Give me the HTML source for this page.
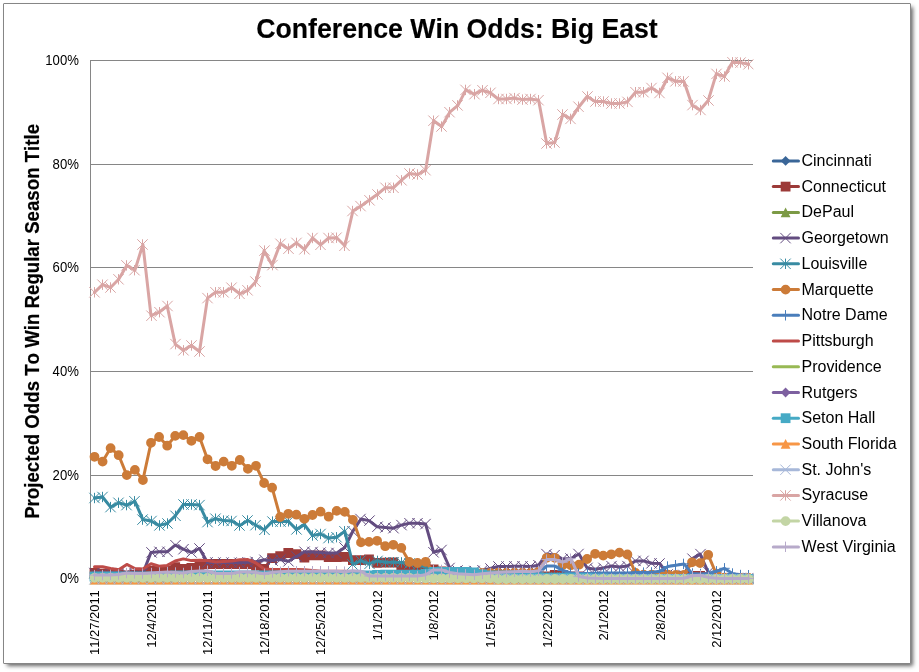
<!DOCTYPE html>
<html lang="en"><head><meta charset="utf-8"><title>Conference Win Odds: Big East</title>
<style>
html,body{margin:0;padding:0;background:#fff;}
body{width:919px;height:672px;position:relative;overflow:hidden;font-family:"Liberation Sans",sans-serif;}
#frame{position:absolute;left:3px;top:3px;width:906px;height:659px;border:1px solid #868686;background:#fff;box-shadow:3px 3px 4px -1px rgba(0,0,0,0.6);border-radius:1px;}
svg{position:absolute;left:0;top:0;}
text{font-family:"Liberation Sans",sans-serif;fill:#000;font-kerning:none;}
.ax{font-size:13.9px;}
.lg{font-size:16px;}
</style></head><body>
<div id="frame"></div>
<svg width="919" height="672" viewBox="0 0 919 672">
<defs><clipPath id="pc"><rect x="0" y="0" width="753.6" height="672"/></clipPath></defs>
<text transform="translate(457 37.8) scale(0.967 1)" text-anchor="middle" font-size="27.6" font-weight="bold" stroke="#000" stroke-width="0.15">Conference Win Odds: Big East</text>
<text transform="translate(38.6 321.4) rotate(-90) scale(0.957 1)" text-anchor="middle" font-size="19.5" font-weight="bold" stroke="#000" stroke-width="0.2">Projected Odds To Win Regular Season Title</text>
<g stroke="#868686" stroke-width="1" shape-rendering="crispEdges">
<line x1="90.5" y1="579.5" x2="752.6" y2="579.5"/>
<line x1="90.5" y1="475.5" x2="752.6" y2="475.5"/>
<line x1="90.5" y1="371.5" x2="752.6" y2="371.5"/>
<line x1="90.5" y1="267.5" x2="752.6" y2="267.5"/>
<line x1="90.5" y1="164.5" x2="752.6" y2="164.5"/>
<line x1="90.5" y1="60.5" x2="752.6" y2="60.5"/>
<line x1="90.5" y1="60" x2="90.5" y2="580"/>
</g>
<text class="ax" transform="translate(78.9 583.1) scale(0.945 1)" text-anchor="end">0%</text>
<text class="ax" transform="translate(78.9 479.5) scale(0.945 1)" text-anchor="end">20%</text>
<text class="ax" transform="translate(78.9 375.9) scale(0.945 1)" text-anchor="end">40%</text>
<text class="ax" transform="translate(78.9 272.3) scale(0.945 1)" text-anchor="end">60%</text>
<text class="ax" transform="translate(78.9 168.7) scale(0.945 1)" text-anchor="end">80%</text>
<text class="ax" transform="translate(78.9 65.1) scale(0.945 1)" text-anchor="end">100%</text>
<g clip-path="url(#pc)" fill="none" stroke-linejoin="round" stroke-linecap="round">
<polyline points="94.5,578.5 102.6,578.5 110.6,578.5 118.7,578.5 126.8,578.5 134.9,578.5 142.9,578.5 151,578.5 159.1,578.5 167.2,578.5 175.2,578.5 183.3,578.5 191.4,578.5 199.5,578.5 207.5,578.5 215.6,578.5 223.7,578.5 231.8,578.5 239.8,578.5 247.9,578.5 256,578.5 264.1,578.5 272.1,578.5 280.2,578.5 288.3,578.5 296.4,578.5 304.4,578.5 312.5,578.5 320.6,578.5 328.7,578.5 336.7,578.5 344.8,578.5 352.9,578.5 361,578.5 369,578.5 377.1,578.5 385.2,578.5 393.3,578.5 401.3,578.5 409.4,578.5 417.5,578.5 425.6,578.5 433.6,578.5 441.7,578.5 449.8,578.5 457.9,578.5 465.9,578.5 474,578.5 482.1,578.5 490.2,578.5 498.2,578.5 506.3,578.5 514.4,578.5 522.5,578.5 530.5,578.5 538.6,578.5 546.7,578.5 554.8,578.5 562.8,578.5 570.9,578.5 579,578.5 587.1,578.5 595.1,578.5 603.2,578.5 611.3,578.5 619.4,578.5 627.4,578.5 635.5,578.5 643.6,578.5 651.7,578.5 659.7,578.5 667.8,578.5 675.9,578.5 684,578.5 692,578.5 700.1,578.5 708.2,578.5 716.3,578.5 724.3,578.5 732.4,578.5 740.5,578.5 748.6,578.5" stroke="#3A6698" stroke-width="3"/>
<path d="M94.5 573.6L99.4 578.5L94.5 583.4L89.6 578.5ZM102.6 573.6L107.5 578.5L102.6 583.4L97.7 578.5ZM110.6 573.6L115.5 578.5L110.6 583.4L105.7 578.5ZM118.7 573.6L123.6 578.5L118.7 583.4L113.8 578.5ZM126.8 573.6L131.7 578.5L126.8 583.4L121.9 578.5ZM134.9 573.6L139.8 578.5L134.9 583.4L130 578.5ZM142.9 573.6L147.8 578.5L142.9 583.4L138 578.5ZM151 573.6L155.9 578.5L151 583.4L146.1 578.5ZM159.1 573.6L164 578.5L159.1 583.4L154.2 578.5ZM167.2 573.6L172.1 578.5L167.2 583.4L162.3 578.5ZM175.2 573.6L180.1 578.5L175.2 583.4L170.3 578.5ZM183.3 573.6L188.2 578.5L183.3 583.4L178.4 578.5ZM191.4 573.6L196.3 578.5L191.4 583.4L186.5 578.5ZM199.5 573.6L204.4 578.5L199.5 583.4L194.6 578.5ZM207.5 573.6L212.4 578.5L207.5 583.4L202.6 578.5ZM215.6 573.6L220.5 578.5L215.6 583.4L210.7 578.5ZM223.7 573.6L228.6 578.5L223.7 583.4L218.8 578.5ZM231.8 573.6L236.7 578.5L231.8 583.4L226.9 578.5ZM239.8 573.6L244.7 578.5L239.8 583.4L234.9 578.5ZM247.9 573.6L252.8 578.5L247.9 583.4L243 578.5ZM256 573.6L260.9 578.5L256 583.4L251.1 578.5ZM264.1 573.6L269 578.5L264.1 583.4L259.2 578.5ZM272.1 573.6L277 578.5L272.1 583.4L267.2 578.5ZM280.2 573.6L285.1 578.5L280.2 583.4L275.3 578.5ZM288.3 573.6L293.2 578.5L288.3 583.4L283.4 578.5ZM296.4 573.6L301.3 578.5L296.4 583.4L291.5 578.5ZM304.4 573.6L309.3 578.5L304.4 583.4L299.5 578.5ZM312.5 573.6L317.4 578.5L312.5 583.4L307.6 578.5ZM320.6 573.6L325.5 578.5L320.6 583.4L315.7 578.5ZM328.7 573.6L333.6 578.5L328.7 583.4L323.8 578.5ZM336.7 573.6L341.6 578.5L336.7 583.4L331.8 578.5ZM344.8 573.6L349.7 578.5L344.8 583.4L339.9 578.5ZM352.9 573.6L357.8 578.5L352.9 583.4L348 578.5ZM361 573.6L365.9 578.5L361 583.4L356.1 578.5ZM369 573.6L373.9 578.5L369 583.4L364.1 578.5ZM377.1 573.6L382 578.5L377.1 583.4L372.2 578.5ZM385.2 573.6L390.1 578.5L385.2 583.4L380.3 578.5ZM393.3 573.6L398.2 578.5L393.3 583.4L388.4 578.5ZM401.3 573.6L406.2 578.5L401.3 583.4L396.4 578.5ZM409.4 573.6L414.3 578.5L409.4 583.4L404.5 578.5ZM417.5 573.6L422.4 578.5L417.5 583.4L412.6 578.5ZM425.6 573.6L430.5 578.5L425.6 583.4L420.7 578.5ZM433.6 573.6L438.5 578.5L433.6 583.4L428.7 578.5ZM441.7 573.6L446.6 578.5L441.7 583.4L436.8 578.5ZM449.8 573.6L454.7 578.5L449.8 583.4L444.9 578.5ZM457.9 573.6L462.8 578.5L457.9 583.4L453 578.5ZM465.9 573.6L470.8 578.5L465.9 583.4L461 578.5ZM474 573.6L478.9 578.5L474 583.4L469.1 578.5ZM482.1 573.6L487 578.5L482.1 583.4L477.2 578.5ZM490.2 573.6L495.1 578.5L490.2 583.4L485.3 578.5ZM498.2 573.6L503.1 578.5L498.2 583.4L493.3 578.5ZM506.3 573.6L511.2 578.5L506.3 583.4L501.4 578.5ZM514.4 573.6L519.3 578.5L514.4 583.4L509.5 578.5ZM522.5 573.6L527.4 578.5L522.5 583.4L517.6 578.5ZM530.5 573.6L535.4 578.5L530.5 583.4L525.6 578.5ZM538.6 573.6L543.5 578.5L538.6 583.4L533.7 578.5ZM546.7 573.6L551.6 578.5L546.7 583.4L541.8 578.5ZM554.8 573.6L559.7 578.5L554.8 583.4L549.9 578.5ZM562.8 573.6L567.7 578.5L562.8 583.4L557.9 578.5ZM570.9 573.6L575.8 578.5L570.9 583.4L566 578.5ZM579 573.6L583.9 578.5L579 583.4L574.1 578.5ZM587.1 573.6L592 578.5L587.1 583.4L582.2 578.5ZM595.1 573.6L600 578.5L595.1 583.4L590.2 578.5ZM603.2 573.6L608.1 578.5L603.2 583.4L598.3 578.5ZM611.3 573.6L616.2 578.5L611.3 583.4L606.4 578.5ZM619.4 573.6L624.3 578.5L619.4 583.4L614.5 578.5ZM627.4 573.6L632.3 578.5L627.4 583.4L622.5 578.5ZM635.5 573.6L640.4 578.5L635.5 583.4L630.6 578.5ZM643.6 573.6L648.5 578.5L643.6 583.4L638.7 578.5ZM651.7 573.6L656.6 578.5L651.7 583.4L646.8 578.5ZM659.7 573.6L664.6 578.5L659.7 583.4L654.8 578.5ZM667.8 573.6L672.7 578.5L667.8 583.4L662.9 578.5ZM675.9 573.6L680.8 578.5L675.9 583.4L671 578.5ZM684 573.6L688.9 578.5L684 583.4L679.1 578.5ZM692 573.6L696.9 578.5L692 583.4L687.1 578.5ZM700.1 573.6L705 578.5L700.1 583.4L695.2 578.5ZM708.2 573.6L713.1 578.5L708.2 583.4L703.3 578.5ZM716.3 573.6L721.2 578.5L716.3 583.4L711.4 578.5ZM724.3 573.6L729.2 578.5L724.3 583.4L719.4 578.5ZM732.4 573.6L737.3 578.5L732.4 583.4L727.5 578.5ZM740.5 573.6L745.4 578.5L740.5 583.4L735.6 578.5ZM748.6 573.6L753.5 578.5L748.6 583.4L743.7 578.5Z" fill="#3A6698" stroke="none"/>
<polyline points="94.5,572.8 102.6,573.7 110.6,573.7 118.7,574.6 126.8,575.3 134.9,574.6 142.9,573.7 151,571 159.1,571.5 167.2,570.7 175.2,567.2 183.3,568.9 191.4,568 199.5,567 207.5,564 215.6,564 223.7,564 231.8,564 239.8,564 247.9,564 256,565.5 264.1,568.9 272.1,558.1 280.2,556.1 288.3,553 296.4,554.1 304.4,557.6 312.5,555.3 320.6,555.3 328.7,557.2 336.7,557.2 344.8,556.8 352.9,560.2 361,560.2 369,559.4 377.1,562.8 385.2,562.6 393.3,562.5 401.3,566.5 409.4,566.5 417.5,566.8 425.6,567.2 433.6,569.5 441.7,571.5 449.8,573.5 457.9,575 465.9,575.5 474,575.5 482.1,575.5 490.2,575.5 498.2,575.5 506.3,575.5 514.4,575.5 522.5,575.5 530.5,575.5 538.6,576 546.7,576.3 554.8,575 562.8,575 570.9,576.3 579,576.3 587.1,577.5 595.1,578 603.2,578 611.3,578 619.4,578 627.4,578.5 635.5,579 643.6,579 651.7,579 659.7,579 667.8,578.5 675.9,577.5 684,576.5 692,575.9 700.1,575.9 708.2,577 716.3,578.5 724.3,579 732.4,579 740.5,579 748.6,579" stroke="#9C3A38" stroke-width="3"/>
<path d="M89.6 567.9h9.8v9.8h-9.8ZM97.7 568.8h9.8v9.8h-9.8ZM105.7 568.8h9.8v9.8h-9.8ZM113.8 569.7h9.8v9.8h-9.8ZM121.9 570.4h9.8v9.8h-9.8ZM130 569.7h9.8v9.8h-9.8ZM138 568.8h9.8v9.8h-9.8ZM146.1 566.1h9.8v9.8h-9.8ZM154.2 566.6h9.8v9.8h-9.8ZM162.3 565.8h9.8v9.8h-9.8ZM170.3 562.3h9.8v9.8h-9.8ZM178.4 564h9.8v9.8h-9.8ZM186.5 563.1h9.8v9.8h-9.8ZM194.6 562.1h9.8v9.8h-9.8ZM202.6 559.1h9.8v9.8h-9.8ZM210.7 559.1h9.8v9.8h-9.8ZM218.8 559.1h9.8v9.8h-9.8ZM226.9 559.1h9.8v9.8h-9.8ZM234.9 559.1h9.8v9.8h-9.8ZM243 559.1h9.8v9.8h-9.8ZM251.1 560.6h9.8v9.8h-9.8ZM259.2 564h9.8v9.8h-9.8ZM267.2 553.2h9.8v9.8h-9.8ZM275.3 551.2h9.8v9.8h-9.8ZM283.4 548.1h9.8v9.8h-9.8ZM291.5 549.2h9.8v9.8h-9.8ZM299.5 552.7h9.8v9.8h-9.8ZM307.6 550.4h9.8v9.8h-9.8ZM315.7 550.4h9.8v9.8h-9.8ZM323.8 552.3h9.8v9.8h-9.8ZM331.8 552.3h9.8v9.8h-9.8ZM339.9 551.9h9.8v9.8h-9.8ZM348 555.3h9.8v9.8h-9.8ZM356.1 555.3h9.8v9.8h-9.8ZM364.1 554.5h9.8v9.8h-9.8ZM372.2 557.9h9.8v9.8h-9.8ZM380.3 557.7h9.8v9.8h-9.8ZM388.4 557.6h9.8v9.8h-9.8ZM396.4 561.6h9.8v9.8h-9.8ZM404.5 561.6h9.8v9.8h-9.8ZM412.6 561.9h9.8v9.8h-9.8ZM420.7 562.3h9.8v9.8h-9.8ZM428.7 564.6h9.8v9.8h-9.8ZM436.8 566.6h9.8v9.8h-9.8ZM444.9 568.6h9.8v9.8h-9.8ZM453 570.1h9.8v9.8h-9.8ZM461 570.6h9.8v9.8h-9.8ZM469.1 570.6h9.8v9.8h-9.8ZM477.2 570.6h9.8v9.8h-9.8ZM485.3 570.6h9.8v9.8h-9.8ZM493.3 570.6h9.8v9.8h-9.8ZM501.4 570.6h9.8v9.8h-9.8ZM509.5 570.6h9.8v9.8h-9.8ZM517.6 570.6h9.8v9.8h-9.8ZM525.6 570.6h9.8v9.8h-9.8ZM533.7 571.1h9.8v9.8h-9.8ZM541.8 571.4h9.8v9.8h-9.8ZM549.9 570.1h9.8v9.8h-9.8ZM557.9 570.1h9.8v9.8h-9.8ZM566 571.4h9.8v9.8h-9.8ZM574.1 571.4h9.8v9.8h-9.8ZM582.2 572.6h9.8v9.8h-9.8ZM590.2 573.1h9.8v9.8h-9.8ZM598.3 573.1h9.8v9.8h-9.8ZM606.4 573.1h9.8v9.8h-9.8ZM614.5 573.1h9.8v9.8h-9.8ZM622.5 573.6h9.8v9.8h-9.8ZM630.6 574.1h9.8v9.8h-9.8ZM638.7 574.1h9.8v9.8h-9.8ZM646.8 574.1h9.8v9.8h-9.8ZM654.8 574.1h9.8v9.8h-9.8ZM662.9 573.6h9.8v9.8h-9.8ZM671 572.6h9.8v9.8h-9.8ZM679.1 571.6h9.8v9.8h-9.8ZM687.1 571h9.8v9.8h-9.8ZM695.2 571h9.8v9.8h-9.8ZM703.3 572.1h9.8v9.8h-9.8ZM711.4 573.6h9.8v9.8h-9.8ZM719.4 574.1h9.8v9.8h-9.8ZM727.5 574.1h9.8v9.8h-9.8ZM735.6 574.1h9.8v9.8h-9.8ZM743.7 574.1h9.8v9.8h-9.8Z" fill="#9C3A38" stroke="none"/>
<polyline points="94.5,579.3 102.6,579.3 110.6,579.3 118.7,579.3 126.8,579.3 134.9,579.3 142.9,579.3 151,579.3 159.1,579.3 167.2,579.3 175.2,579.3 183.3,579.3 191.4,579.3 199.5,579.3 207.5,579.3 215.6,579.3 223.7,579.3 231.8,579.3 239.8,579.3 247.9,579.3 256,579.3 264.1,579.3 272.1,579.3 280.2,579.3 288.3,579.3 296.4,579.3 304.4,579.3 312.5,579.3 320.6,579.3 328.7,579.3 336.7,579.3 344.8,579.3 352.9,579.3 361,579.3 369,579.3 377.1,579.3 385.2,579.3 393.3,579.3 401.3,579.3 409.4,579.3 417.5,579.3 425.6,579.3 433.6,579.3 441.7,579.3 449.8,579.3 457.9,579.3 465.9,579.3 474,579.3 482.1,579.3 490.2,579.3 498.2,579.3 506.3,579.3 514.4,579.3 522.5,579.3 530.5,579.3 538.6,579.3 546.7,579.3 554.8,579.3 562.8,579.3 570.9,579.3 579,579.3 587.1,579.3 595.1,579.3 603.2,579.3 611.3,579.3 619.4,579.3 627.4,579.3 635.5,579.3 643.6,579.3 651.7,579.3 659.7,579.3 667.8,579.3 675.9,579.3 684,579.3 692,579.3 700.1,579.3 708.2,579.3 716.3,579.3 724.3,579.3 732.4,579.3 740.5,579.3 748.6,579.3" stroke="#7C9A45" stroke-width="3"/>
<path d="M94.5 574.4L99.4 584.2L89.6 584.2ZM102.6 574.4L107.5 584.2L97.7 584.2ZM110.6 574.4L115.5 584.2L105.7 584.2ZM118.7 574.4L123.6 584.2L113.8 584.2ZM126.8 574.4L131.7 584.2L121.9 584.2ZM134.9 574.4L139.8 584.2L130 584.2ZM142.9 574.4L147.8 584.2L138 584.2ZM151 574.4L155.9 584.2L146.1 584.2ZM159.1 574.4L164 584.2L154.2 584.2ZM167.2 574.4L172.1 584.2L162.3 584.2ZM175.2 574.4L180.1 584.2L170.3 584.2ZM183.3 574.4L188.2 584.2L178.4 584.2ZM191.4 574.4L196.3 584.2L186.5 584.2ZM199.5 574.4L204.4 584.2L194.6 584.2ZM207.5 574.4L212.4 584.2L202.6 584.2ZM215.6 574.4L220.5 584.2L210.7 584.2ZM223.7 574.4L228.6 584.2L218.8 584.2ZM231.8 574.4L236.7 584.2L226.9 584.2ZM239.8 574.4L244.7 584.2L234.9 584.2ZM247.9 574.4L252.8 584.2L243 584.2ZM256 574.4L260.9 584.2L251.1 584.2ZM264.1 574.4L269 584.2L259.2 584.2ZM272.1 574.4L277 584.2L267.2 584.2ZM280.2 574.4L285.1 584.2L275.3 584.2ZM288.3 574.4L293.2 584.2L283.4 584.2ZM296.4 574.4L301.3 584.2L291.5 584.2ZM304.4 574.4L309.3 584.2L299.5 584.2ZM312.5 574.4L317.4 584.2L307.6 584.2ZM320.6 574.4L325.5 584.2L315.7 584.2ZM328.7 574.4L333.6 584.2L323.8 584.2ZM336.7 574.4L341.6 584.2L331.8 584.2ZM344.8 574.4L349.7 584.2L339.9 584.2ZM352.9 574.4L357.8 584.2L348 584.2ZM361 574.4L365.9 584.2L356.1 584.2ZM369 574.4L373.9 584.2L364.1 584.2ZM377.1 574.4L382 584.2L372.2 584.2ZM385.2 574.4L390.1 584.2L380.3 584.2ZM393.3 574.4L398.2 584.2L388.4 584.2ZM401.3 574.4L406.2 584.2L396.4 584.2ZM409.4 574.4L414.3 584.2L404.5 584.2ZM417.5 574.4L422.4 584.2L412.6 584.2ZM425.6 574.4L430.5 584.2L420.7 584.2ZM433.6 574.4L438.5 584.2L428.7 584.2ZM441.7 574.4L446.6 584.2L436.8 584.2ZM449.8 574.4L454.7 584.2L444.9 584.2ZM457.9 574.4L462.8 584.2L453 584.2ZM465.9 574.4L470.8 584.2L461 584.2ZM474 574.4L478.9 584.2L469.1 584.2ZM482.1 574.4L487 584.2L477.2 584.2ZM490.2 574.4L495.1 584.2L485.3 584.2ZM498.2 574.4L503.1 584.2L493.3 584.2ZM506.3 574.4L511.2 584.2L501.4 584.2ZM514.4 574.4L519.3 584.2L509.5 584.2ZM522.5 574.4L527.4 584.2L517.6 584.2ZM530.5 574.4L535.4 584.2L525.6 584.2ZM538.6 574.4L543.5 584.2L533.7 584.2ZM546.7 574.4L551.6 584.2L541.8 584.2ZM554.8 574.4L559.7 584.2L549.9 584.2ZM562.8 574.4L567.7 584.2L557.9 584.2ZM570.9 574.4L575.8 584.2L566 584.2ZM579 574.4L583.9 584.2L574.1 584.2ZM587.1 574.4L592 584.2L582.2 584.2ZM595.1 574.4L600 584.2L590.2 584.2ZM603.2 574.4L608.1 584.2L598.3 584.2ZM611.3 574.4L616.2 584.2L606.4 584.2ZM619.4 574.4L624.3 584.2L614.5 584.2ZM627.4 574.4L632.3 584.2L622.5 584.2ZM635.5 574.4L640.4 584.2L630.6 584.2ZM643.6 574.4L648.5 584.2L638.7 584.2ZM651.7 574.4L656.6 584.2L646.8 584.2ZM659.7 574.4L664.6 584.2L654.8 584.2ZM667.8 574.4L672.7 584.2L662.9 584.2ZM675.9 574.4L680.8 584.2L671 584.2ZM684 574.4L688.9 584.2L679.1 584.2ZM692 574.4L696.9 584.2L687.1 584.2ZM700.1 574.4L705 584.2L695.2 584.2ZM708.2 574.4L713.1 584.2L703.3 584.2ZM716.3 574.4L721.2 584.2L711.4 584.2ZM724.3 574.4L729.2 584.2L719.4 584.2ZM732.4 574.4L737.3 584.2L727.5 584.2ZM740.5 574.4L745.4 584.2L735.6 584.2ZM748.6 574.4L753.5 584.2L743.7 584.2Z" fill="#7C9A45" stroke="none"/>
<polyline points="94.5,573 102.6,573 110.6,573 118.7,573 126.8,573 134.9,573 142.9,573.2 151,552.4 159.1,551.8 167.2,551.8 175.2,545.2 183.3,549.2 191.4,552.4 199.5,548.5 207.5,562.4 215.6,562.6 223.7,562.6 231.8,562.6 239.8,562.8 247.9,562.2 256,561.8 264.1,559.8 272.1,560.5 280.2,559.6 288.3,561.3 296.4,556.5 304.4,551.7 312.5,552 320.6,552.6 328.7,553 336.7,553 344.8,547.5 352.9,531.2 361,519 369,520.6 377.1,526.7 385.2,527.4 393.3,528.2 401.3,525.1 409.4,523.2 417.5,523.2 425.6,524.1 433.6,552.3 441.7,550 449.8,568 457.9,570.5 465.9,571.3 474,571 482.1,570.2 490.2,568.5 498.2,566.5 506.3,566.5 514.4,566.3 522.5,566.3 530.5,566.5 538.6,565.2 546.7,554.1 554.8,555.2 562.8,559.1 570.9,558.5 579,554 587.1,567.9 595.1,569.2 603.2,567.9 611.3,566.1 619.4,567 627.4,566.1 635.5,560.9 643.6,560.9 651.7,563.3 659.7,563.5 667.8,574.5 675.9,576 684,575 692,558.7 700.1,554.1 708.2,572.2 716.3,577 724.3,577.5 732.4,578 740.5,578 748.6,578" stroke="#634C80" stroke-width="3"/>
<path d="M89.3 567.8l10.4 10.4M89.3 578.2l10.4 -10.4M97.3 567.8l10.4 10.4M97.3 578.2l10.4 -10.4M105.3 567.8l10.4 10.4M105.3 578.2l10.4 -10.4M113.3 567.8l10.4 10.4M113.3 578.2l10.4 -10.4M121.3 567.8l10.4 10.4M121.3 578.2l10.4 -10.4M129.3 567.8l10.4 10.4M129.3 578.2l10.4 -10.4M137.3 568l10.4 10.4M137.3 578.4l10.4 -10.4M146.3 547.2l10.4 10.4M146.3 557.6l10.4 -10.4M154.3 546.6l10.4 10.4M154.3 557l10.4 -10.4M162.3 546.6l10.4 10.4M162.3 557l10.4 -10.4M170.3 540l10.4 10.4M170.3 550.4l10.4 -10.4M178.3 544l10.4 10.4M178.3 554.4l10.4 -10.4M186.3 547.2l10.4 10.4M186.3 557.6l10.4 -10.4M194.3 543.3l10.4 10.4M194.3 553.7l10.4 -10.4M202.3 557.2l10.4 10.4M202.3 567.6l10.4 -10.4M210.3 557.4l10.4 10.4M210.3 567.8l10.4 -10.4M218.3 557.4l10.4 10.4M218.3 567.8l10.4 -10.4M226.3 557.4l10.4 10.4M226.3 567.8l10.4 -10.4M234.3 557.6l10.4 10.4M234.3 568l10.4 -10.4M242.3 557l10.4 10.4M242.3 567.4l10.4 -10.4M250.3 556.6l10.4 10.4M250.3 567l10.4 -10.4M259.3 554.6l10.4 10.4M259.3 565l10.4 -10.4M267.3 555.3l10.4 10.4M267.3 565.7l10.4 -10.4M275.3 554.4l10.4 10.4M275.3 564.8l10.4 -10.4M283.3 556.1l10.4 10.4M283.3 566.5l10.4 -10.4M291.3 551.3l10.4 10.4M291.3 561.7l10.4 -10.4M299.3 546.5l10.4 10.4M299.3 556.9l10.4 -10.4M307.3 546.8l10.4 10.4M307.3 557.2l10.4 -10.4M315.3 547.4l10.4 10.4M315.3 557.8l10.4 -10.4M323.3 547.8l10.4 10.4M323.3 558.2l10.4 -10.4M331.3 547.8l10.4 10.4M331.3 558.2l10.4 -10.4M339.3 542.3l10.4 10.4M339.3 552.7l10.4 -10.4M347.3 526l10.4 10.4M347.3 536.4l10.4 -10.4M355.3 513.8l10.4 10.4M355.3 524.2l10.4 -10.4M364.3 515.4l10.4 10.4M364.3 525.8l10.4 -10.4M372.3 521.5l10.4 10.4M372.3 531.9l10.4 -10.4M380.3 522.2l10.4 10.4M380.3 532.6l10.4 -10.4M388.3 523l10.4 10.4M388.3 533.4l10.4 -10.4M396.3 519.9l10.4 10.4M396.3 530.3l10.4 -10.4M404.3 518l10.4 10.4M404.3 528.4l10.4 -10.4M412.3 518l10.4 10.4M412.3 528.4l10.4 -10.4M420.3 518.9l10.4 10.4M420.3 529.3l10.4 -10.4M428.3 547.1l10.4 10.4M428.3 557.5l10.4 -10.4M436.3 544.8l10.4 10.4M436.3 555.2l10.4 -10.4M444.3 562.8l10.4 10.4M444.3 573.2l10.4 -10.4M452.3 565.3l10.4 10.4M452.3 575.7l10.4 -10.4M460.3 566.1l10.4 10.4M460.3 576.5l10.4 -10.4M469.3 565.8l10.4 10.4M469.3 576.2l10.4 -10.4M477.3 565l10.4 10.4M477.3 575.4l10.4 -10.4M485.3 563.3l10.4 10.4M485.3 573.7l10.4 -10.4M493.3 561.3l10.4 10.4M493.3 571.7l10.4 -10.4M501.3 561.3l10.4 10.4M501.3 571.7l10.4 -10.4M509.3 561.1l10.4 10.4M509.3 571.5l10.4 -10.4M517.3 561.1l10.4 10.4M517.3 571.5l10.4 -10.4M525.3 561.3l10.4 10.4M525.3 571.7l10.4 -10.4M533.3 560l10.4 10.4M533.3 570.4l10.4 -10.4M541.3 548.9l10.4 10.4M541.3 559.3l10.4 -10.4M549.3 550l10.4 10.4M549.3 560.4l10.4 -10.4M557.3 553.9l10.4 10.4M557.3 564.3l10.4 -10.4M565.3 553.3l10.4 10.4M565.3 563.7l10.4 -10.4M573.3 548.8l10.4 10.4M573.3 559.2l10.4 -10.4M582.3 562.7l10.4 10.4M582.3 573.1l10.4 -10.4M590.3 564l10.4 10.4M590.3 574.4l10.4 -10.4M598.3 562.7l10.4 10.4M598.3 573.1l10.4 -10.4M606.3 560.9l10.4 10.4M606.3 571.3l10.4 -10.4M614.3 561.8l10.4 10.4M614.3 572.2l10.4 -10.4M622.3 560.9l10.4 10.4M622.3 571.3l10.4 -10.4M630.3 555.7l10.4 10.4M630.3 566.1l10.4 -10.4M638.3 555.7l10.4 10.4M638.3 566.1l10.4 -10.4M646.3 558.1l10.4 10.4M646.3 568.5l10.4 -10.4M654.3 558.3l10.4 10.4M654.3 568.7l10.4 -10.4M662.3 569.3l10.4 10.4M662.3 579.7l10.4 -10.4M670.3 570.8l10.4 10.4M670.3 581.2l10.4 -10.4M678.3 569.8l10.4 10.4M678.3 580.2l10.4 -10.4M687.3 553.5l10.4 10.4M687.3 563.9l10.4 -10.4M695.3 548.9l10.4 10.4M695.3 559.3l10.4 -10.4M703.3 567l10.4 10.4M703.3 577.4l10.4 -10.4M711.3 571.8l10.4 10.4M711.3 582.2l10.4 -10.4M719.3 572.3l10.4 10.4M719.3 582.7l10.4 -10.4M727.3 572.8l10.4 10.4M727.3 583.2l10.4 -10.4M735.3 572.8l10.4 10.4M735.3 583.2l10.4 -10.4M743.3 572.8l10.4 10.4M743.3 583.2l10.4 -10.4" stroke="#634C80" stroke-width="1" stroke-linecap="butt"/>
<polyline points="94.5,498 102.6,497 110.6,507.1 118.7,502.8 126.8,505.1 134.9,501.3 142.9,519.6 151,521 159.1,525.4 167.2,523.5 175.2,515.8 183.3,504.5 191.4,504.5 199.5,505.1 207.5,522.1 215.6,518.7 223.7,520.6 231.8,521 239.8,525.5 247.9,520.5 256,525.2 264.1,529.8 272.1,521.6 280.2,521.6 288.3,521.3 296.4,529.4 304.4,524.6 312.5,535.5 320.6,534 328.7,538.1 336.7,537.2 344.8,531.3 352.9,564.5 361,560.6 369,563.9 377.1,560.9 385.2,562.2 393.3,562.2 401.3,562.4 409.4,563.5 417.5,565 425.6,567 433.6,571 441.7,573.5 449.8,574.5 457.9,575 465.9,575.5 474,576 482.1,576 490.2,576.5 498.2,576.5 506.3,577 514.4,577 522.5,577 530.5,577 538.6,577.5 546.7,577.5 554.8,577.5 562.8,577.5 570.9,578 579,578 587.1,578 595.1,578 603.2,578 611.3,578 619.4,578.5 627.4,578.5 635.5,578.5 643.6,578.5 651.7,578.5 659.7,578.5 667.8,578.5 675.9,578.5 684,579 692,579 700.1,579 708.2,579 716.3,579 724.3,579 732.4,579 740.5,579 748.6,579" stroke="#388BA2" stroke-width="3"/>
<path d="M89.3 492.8l10.4 10.4M89.3 503.2l10.4 -10.4M94.5 492.8v10.4M97.3 491.8l10.4 10.4M97.3 502.2l10.4 -10.4M102.5 491.8v10.4M105.3 501.9l10.4 10.4M105.3 512.3l10.4 -10.4M110.5 501.9v10.4M113.3 497.6l10.4 10.4M113.3 508l10.4 -10.4M118.5 497.6v10.4M121.3 499.9l10.4 10.4M121.3 510.3l10.4 -10.4M126.5 499.9v10.4M129.3 496.1l10.4 10.4M129.3 506.5l10.4 -10.4M134.5 496.1v10.4M137.3 514.4l10.4 10.4M137.3 524.8l10.4 -10.4M142.5 514.4v10.4M146.3 515.8l10.4 10.4M146.3 526.2l10.4 -10.4M151.5 515.8v10.4M154.3 520.2l10.4 10.4M154.3 530.6l10.4 -10.4M159.5 520.2v10.4M162.3 518.3l10.4 10.4M162.3 528.7l10.4 -10.4M167.5 518.3v10.4M170.3 510.6l10.4 10.4M170.3 521l10.4 -10.4M175.5 510.6v10.4M178.3 499.3l10.4 10.4M178.3 509.7l10.4 -10.4M183.5 499.3v10.4M186.3 499.3l10.4 10.4M186.3 509.7l10.4 -10.4M191.5 499.3v10.4M194.3 499.9l10.4 10.4M194.3 510.3l10.4 -10.4M199.5 499.9v10.4M202.3 516.9l10.4 10.4M202.3 527.3l10.4 -10.4M207.5 516.9v10.4M210.3 513.5l10.4 10.4M210.3 523.9l10.4 -10.4M215.5 513.5v10.4M218.3 515.4l10.4 10.4M218.3 525.8l10.4 -10.4M223.5 515.4v10.4M226.3 515.8l10.4 10.4M226.3 526.2l10.4 -10.4M231.5 515.8v10.4M234.3 520.3l10.4 10.4M234.3 530.7l10.4 -10.4M239.5 520.3v10.4M242.3 515.3l10.4 10.4M242.3 525.7l10.4 -10.4M247.5 515.3v10.4M250.3 520l10.4 10.4M250.3 530.4l10.4 -10.4M255.5 520v10.4M259.3 524.6l10.4 10.4M259.3 535l10.4 -10.4M264.5 524.6v10.4M267.3 516.4l10.4 10.4M267.3 526.8l10.4 -10.4M272.5 516.4v10.4M275.3 516.4l10.4 10.4M275.3 526.8l10.4 -10.4M280.5 516.4v10.4M283.3 516.1l10.4 10.4M283.3 526.5l10.4 -10.4M288.5 516.1v10.4M291.3 524.2l10.4 10.4M291.3 534.6l10.4 -10.4M296.5 524.2v10.4M299.3 519.4l10.4 10.4M299.3 529.8l10.4 -10.4M304.5 519.4v10.4M307.3 530.3l10.4 10.4M307.3 540.7l10.4 -10.4M312.5 530.3v10.4M315.3 528.8l10.4 10.4M315.3 539.2l10.4 -10.4M320.5 528.8v10.4M323.3 532.9l10.4 10.4M323.3 543.3l10.4 -10.4M328.5 532.9v10.4M331.3 532l10.4 10.4M331.3 542.4l10.4 -10.4M336.5 532v10.4M339.3 526.1l10.4 10.4M339.3 536.5l10.4 -10.4M344.5 526.1v10.4M347.3 559.3l10.4 10.4M347.3 569.7l10.4 -10.4M352.5 559.3v10.4M355.3 555.4l10.4 10.4M355.3 565.8l10.4 -10.4M360.5 555.4v10.4M364.3 558.7l10.4 10.4M364.3 569.1l10.4 -10.4M369.5 558.7v10.4M372.3 555.7l10.4 10.4M372.3 566.1l10.4 -10.4M377.5 555.7v10.4M380.3 557l10.4 10.4M380.3 567.4l10.4 -10.4M385.5 557v10.4M388.3 557l10.4 10.4M388.3 567.4l10.4 -10.4M393.5 557v10.4M396.3 557.2l10.4 10.4M396.3 567.6l10.4 -10.4M401.5 557.2v10.4M404.3 558.3l10.4 10.4M404.3 568.7l10.4 -10.4M409.5 558.3v10.4M412.3 559.8l10.4 10.4M412.3 570.2l10.4 -10.4M417.5 559.8v10.4M420.3 561.8l10.4 10.4M420.3 572.2l10.4 -10.4M425.5 561.8v10.4M428.3 565.8l10.4 10.4M428.3 576.2l10.4 -10.4M433.5 565.8v10.4M436.3 568.3l10.4 10.4M436.3 578.7l10.4 -10.4M441.5 568.3v10.4M444.3 569.3l10.4 10.4M444.3 579.7l10.4 -10.4M449.5 569.3v10.4M452.3 569.8l10.4 10.4M452.3 580.2l10.4 -10.4M457.5 569.8v10.4M460.3 570.3l10.4 10.4M460.3 580.7l10.4 -10.4M465.5 570.3v10.4M469.3 570.8l10.4 10.4M469.3 581.2l10.4 -10.4M474.5 570.8v10.4M477.3 570.8l10.4 10.4M477.3 581.2l10.4 -10.4M482.5 570.8v10.4M485.3 571.3l10.4 10.4M485.3 581.7l10.4 -10.4M490.5 571.3v10.4M493.3 571.3l10.4 10.4M493.3 581.7l10.4 -10.4M498.5 571.3v10.4M501.3 571.8l10.4 10.4M501.3 582.2l10.4 -10.4M506.5 571.8v10.4M509.3 571.8l10.4 10.4M509.3 582.2l10.4 -10.4M514.5 571.8v10.4M517.3 571.8l10.4 10.4M517.3 582.2l10.4 -10.4M522.5 571.8v10.4M525.3 571.8l10.4 10.4M525.3 582.2l10.4 -10.4M530.5 571.8v10.4M533.3 572.3l10.4 10.4M533.3 582.7l10.4 -10.4M538.5 572.3v10.4M541.3 572.3l10.4 10.4M541.3 582.7l10.4 -10.4M546.5 572.3v10.4M549.3 572.3l10.4 10.4M549.3 582.7l10.4 -10.4M554.5 572.3v10.4M557.3 572.3l10.4 10.4M557.3 582.7l10.4 -10.4M562.5 572.3v10.4M565.3 572.8l10.4 10.4M565.3 583.2l10.4 -10.4M570.5 572.8v10.4M573.3 572.8l10.4 10.4M573.3 583.2l10.4 -10.4M578.5 572.8v10.4M582.3 572.8l10.4 10.4M582.3 583.2l10.4 -10.4M587.5 572.8v10.4M590.3 572.8l10.4 10.4M590.3 583.2l10.4 -10.4M595.5 572.8v10.4M598.3 572.8l10.4 10.4M598.3 583.2l10.4 -10.4M603.5 572.8v10.4M606.3 572.8l10.4 10.4M606.3 583.2l10.4 -10.4M611.5 572.8v10.4M614.3 573.3l10.4 10.4M614.3 583.7l10.4 -10.4M619.5 573.3v10.4M622.3 573.3l10.4 10.4M622.3 583.7l10.4 -10.4M627.5 573.3v10.4M630.3 573.3l10.4 10.4M630.3 583.7l10.4 -10.4M635.5 573.3v10.4M638.3 573.3l10.4 10.4M638.3 583.7l10.4 -10.4M643.5 573.3v10.4M646.3 573.3l10.4 10.4M646.3 583.7l10.4 -10.4M651.5 573.3v10.4M654.3 573.3l10.4 10.4M654.3 583.7l10.4 -10.4M659.5 573.3v10.4M662.3 573.3l10.4 10.4M662.3 583.7l10.4 -10.4M667.5 573.3v10.4M670.3 573.3l10.4 10.4M670.3 583.7l10.4 -10.4M675.5 573.3v10.4M678.3 573.8l10.4 10.4M678.3 584.2l10.4 -10.4M683.5 573.8v10.4M687.3 573.8l10.4 10.4M687.3 584.2l10.4 -10.4M692.5 573.8v10.4M695.3 573.8l10.4 10.4M695.3 584.2l10.4 -10.4M700.5 573.8v10.4M703.3 573.8l10.4 10.4M703.3 584.2l10.4 -10.4M708.5 573.8v10.4M711.3 573.8l10.4 10.4M711.3 584.2l10.4 -10.4M716.5 573.8v10.4M719.3 573.8l10.4 10.4M719.3 584.2l10.4 -10.4M724.5 573.8v10.4M727.3 573.8l10.4 10.4M727.3 584.2l10.4 -10.4M732.5 573.8v10.4M735.3 573.8l10.4 10.4M735.3 584.2l10.4 -10.4M740.5 573.8v10.4M743.3 573.8l10.4 10.4M743.3 584.2l10.4 -10.4M748.5 573.8v10.4" stroke="#388BA2" stroke-width="1" stroke-linecap="butt"/>
<polyline points="94.5,456.8 102.6,461.6 110.6,448.1 118.7,455.2 126.8,475.1 134.9,469.9 142.9,480 151,442.8 159.1,437 167.2,445.7 175.2,435.9 183.3,435.1 191.4,440.9 199.5,437 207.5,459.3 215.6,466 223.7,461.6 231.8,465.8 239.8,460 247.9,468.9 256,465.8 264.1,483 272.1,487.7 280.2,517 288.3,513.8 296.4,514.7 304.4,518.9 312.5,515 320.6,511.7 328.7,516.7 336.7,510.9 344.8,511.9 352.9,519.8 361,542.4 369,541.9 377.1,540.8 385.2,546.2 393.3,544.8 401.3,547.9 409.4,562 417.5,563 425.6,561.8 433.6,572 441.7,573 449.8,572.8 457.9,573.3 465.9,573.3 474,573 482.1,572.8 490.2,572.8 498.2,573 506.3,573 514.4,573 522.5,573 530.5,573 538.6,572 546.7,557.8 554.8,557.8 562.8,565 570.9,565.2 579,564.7 587.1,559 595.1,553.8 603.2,555.6 611.3,554.3 619.4,552.6 627.4,554.5 635.5,573 643.6,574.6 651.7,574.6 659.7,574.6 667.8,574.6 675.9,574.8 684,575 692,562.3 700.1,563.1 708.2,554.8 716.3,574 724.3,577.6 732.4,577.8 740.5,578 748.6,578" stroke="#CC7B38" stroke-width="3"/>
<path d="M89.6 456.8a4.9 4.9 0 1 0 9.8 0a4.9 4.9 0 1 0 -9.8 0ZM97.7 461.6a4.9 4.9 0 1 0 9.8 0a4.9 4.9 0 1 0 -9.8 0ZM105.7 448.1a4.9 4.9 0 1 0 9.8 0a4.9 4.9 0 1 0 -9.8 0ZM113.8 455.2a4.9 4.9 0 1 0 9.8 0a4.9 4.9 0 1 0 -9.8 0ZM121.9 475.1a4.9 4.9 0 1 0 9.8 0a4.9 4.9 0 1 0 -9.8 0ZM130 469.9a4.9 4.9 0 1 0 9.8 0a4.9 4.9 0 1 0 -9.8 0ZM138 480a4.9 4.9 0 1 0 9.8 0a4.9 4.9 0 1 0 -9.8 0ZM146.1 442.8a4.9 4.9 0 1 0 9.8 0a4.9 4.9 0 1 0 -9.8 0ZM154.2 437a4.9 4.9 0 1 0 9.8 0a4.9 4.9 0 1 0 -9.8 0ZM162.3 445.7a4.9 4.9 0 1 0 9.8 0a4.9 4.9 0 1 0 -9.8 0ZM170.3 435.9a4.9 4.9 0 1 0 9.8 0a4.9 4.9 0 1 0 -9.8 0ZM178.4 435.1a4.9 4.9 0 1 0 9.8 0a4.9 4.9 0 1 0 -9.8 0ZM186.5 440.9a4.9 4.9 0 1 0 9.8 0a4.9 4.9 0 1 0 -9.8 0ZM194.6 437a4.9 4.9 0 1 0 9.8 0a4.9 4.9 0 1 0 -9.8 0ZM202.6 459.3a4.9 4.9 0 1 0 9.8 0a4.9 4.9 0 1 0 -9.8 0ZM210.7 466a4.9 4.9 0 1 0 9.8 0a4.9 4.9 0 1 0 -9.8 0ZM218.8 461.6a4.9 4.9 0 1 0 9.8 0a4.9 4.9 0 1 0 -9.8 0ZM226.9 465.8a4.9 4.9 0 1 0 9.8 0a4.9 4.9 0 1 0 -9.8 0ZM234.9 460a4.9 4.9 0 1 0 9.8 0a4.9 4.9 0 1 0 -9.8 0ZM243 468.9a4.9 4.9 0 1 0 9.8 0a4.9 4.9 0 1 0 -9.8 0ZM251.1 465.8a4.9 4.9 0 1 0 9.8 0a4.9 4.9 0 1 0 -9.8 0ZM259.2 483a4.9 4.9 0 1 0 9.8 0a4.9 4.9 0 1 0 -9.8 0ZM267.2 487.7a4.9 4.9 0 1 0 9.8 0a4.9 4.9 0 1 0 -9.8 0ZM275.3 517a4.9 4.9 0 1 0 9.8 0a4.9 4.9 0 1 0 -9.8 0ZM283.4 513.8a4.9 4.9 0 1 0 9.8 0a4.9 4.9 0 1 0 -9.8 0ZM291.5 514.7a4.9 4.9 0 1 0 9.8 0a4.9 4.9 0 1 0 -9.8 0ZM299.5 518.9a4.9 4.9 0 1 0 9.8 0a4.9 4.9 0 1 0 -9.8 0ZM307.6 515a4.9 4.9 0 1 0 9.8 0a4.9 4.9 0 1 0 -9.8 0ZM315.7 511.7a4.9 4.9 0 1 0 9.8 0a4.9 4.9 0 1 0 -9.8 0ZM323.8 516.7a4.9 4.9 0 1 0 9.8 0a4.9 4.9 0 1 0 -9.8 0ZM331.8 510.9a4.9 4.9 0 1 0 9.8 0a4.9 4.9 0 1 0 -9.8 0ZM339.9 511.9a4.9 4.9 0 1 0 9.8 0a4.9 4.9 0 1 0 -9.8 0ZM348 519.8a4.9 4.9 0 1 0 9.8 0a4.9 4.9 0 1 0 -9.8 0ZM356.1 542.4a4.9 4.9 0 1 0 9.8 0a4.9 4.9 0 1 0 -9.8 0ZM364.1 541.9a4.9 4.9 0 1 0 9.8 0a4.9 4.9 0 1 0 -9.8 0ZM372.2 540.8a4.9 4.9 0 1 0 9.8 0a4.9 4.9 0 1 0 -9.8 0ZM380.3 546.2a4.9 4.9 0 1 0 9.8 0a4.9 4.9 0 1 0 -9.8 0ZM388.4 544.8a4.9 4.9 0 1 0 9.8 0a4.9 4.9 0 1 0 -9.8 0ZM396.4 547.9a4.9 4.9 0 1 0 9.8 0a4.9 4.9 0 1 0 -9.8 0ZM404.5 562a4.9 4.9 0 1 0 9.8 0a4.9 4.9 0 1 0 -9.8 0ZM412.6 563a4.9 4.9 0 1 0 9.8 0a4.9 4.9 0 1 0 -9.8 0ZM420.7 561.8a4.9 4.9 0 1 0 9.8 0a4.9 4.9 0 1 0 -9.8 0ZM428.7 572a4.9 4.9 0 1 0 9.8 0a4.9 4.9 0 1 0 -9.8 0ZM436.8 573a4.9 4.9 0 1 0 9.8 0a4.9 4.9 0 1 0 -9.8 0ZM444.9 572.8a4.9 4.9 0 1 0 9.8 0a4.9 4.9 0 1 0 -9.8 0ZM453 573.3a4.9 4.9 0 1 0 9.8 0a4.9 4.9 0 1 0 -9.8 0ZM461 573.3a4.9 4.9 0 1 0 9.8 0a4.9 4.9 0 1 0 -9.8 0ZM469.1 573a4.9 4.9 0 1 0 9.8 0a4.9 4.9 0 1 0 -9.8 0ZM477.2 572.8a4.9 4.9 0 1 0 9.8 0a4.9 4.9 0 1 0 -9.8 0ZM485.3 572.8a4.9 4.9 0 1 0 9.8 0a4.9 4.9 0 1 0 -9.8 0ZM493.3 573a4.9 4.9 0 1 0 9.8 0a4.9 4.9 0 1 0 -9.8 0ZM501.4 573a4.9 4.9 0 1 0 9.8 0a4.9 4.9 0 1 0 -9.8 0ZM509.5 573a4.9 4.9 0 1 0 9.8 0a4.9 4.9 0 1 0 -9.8 0ZM517.6 573a4.9 4.9 0 1 0 9.8 0a4.9 4.9 0 1 0 -9.8 0ZM525.6 573a4.9 4.9 0 1 0 9.8 0a4.9 4.9 0 1 0 -9.8 0ZM533.7 572a4.9 4.9 0 1 0 9.8 0a4.9 4.9 0 1 0 -9.8 0ZM541.8 557.8a4.9 4.9 0 1 0 9.8 0a4.9 4.9 0 1 0 -9.8 0ZM549.9 557.8a4.9 4.9 0 1 0 9.8 0a4.9 4.9 0 1 0 -9.8 0ZM557.9 565a4.9 4.9 0 1 0 9.8 0a4.9 4.9 0 1 0 -9.8 0ZM566 565.2a4.9 4.9 0 1 0 9.8 0a4.9 4.9 0 1 0 -9.8 0ZM574.1 564.7a4.9 4.9 0 1 0 9.8 0a4.9 4.9 0 1 0 -9.8 0ZM582.2 559a4.9 4.9 0 1 0 9.8 0a4.9 4.9 0 1 0 -9.8 0ZM590.2 553.8a4.9 4.9 0 1 0 9.8 0a4.9 4.9 0 1 0 -9.8 0ZM598.3 555.6a4.9 4.9 0 1 0 9.8 0a4.9 4.9 0 1 0 -9.8 0ZM606.4 554.3a4.9 4.9 0 1 0 9.8 0a4.9 4.9 0 1 0 -9.8 0ZM614.5 552.6a4.9 4.9 0 1 0 9.8 0a4.9 4.9 0 1 0 -9.8 0ZM622.5 554.5a4.9 4.9 0 1 0 9.8 0a4.9 4.9 0 1 0 -9.8 0ZM630.6 573a4.9 4.9 0 1 0 9.8 0a4.9 4.9 0 1 0 -9.8 0ZM638.7 574.6a4.9 4.9 0 1 0 9.8 0a4.9 4.9 0 1 0 -9.8 0ZM646.8 574.6a4.9 4.9 0 1 0 9.8 0a4.9 4.9 0 1 0 -9.8 0ZM654.8 574.6a4.9 4.9 0 1 0 9.8 0a4.9 4.9 0 1 0 -9.8 0ZM662.9 574.6a4.9 4.9 0 1 0 9.8 0a4.9 4.9 0 1 0 -9.8 0ZM671 574.8a4.9 4.9 0 1 0 9.8 0a4.9 4.9 0 1 0 -9.8 0ZM679.1 575a4.9 4.9 0 1 0 9.8 0a4.9 4.9 0 1 0 -9.8 0ZM687.1 562.3a4.9 4.9 0 1 0 9.8 0a4.9 4.9 0 1 0 -9.8 0ZM695.2 563.1a4.9 4.9 0 1 0 9.8 0a4.9 4.9 0 1 0 -9.8 0ZM703.3 554.8a4.9 4.9 0 1 0 9.8 0a4.9 4.9 0 1 0 -9.8 0ZM711.4 574a4.9 4.9 0 1 0 9.8 0a4.9 4.9 0 1 0 -9.8 0ZM719.4 577.6a4.9 4.9 0 1 0 9.8 0a4.9 4.9 0 1 0 -9.8 0ZM727.5 577.8a4.9 4.9 0 1 0 9.8 0a4.9 4.9 0 1 0 -9.8 0ZM735.6 578a4.9 4.9 0 1 0 9.8 0a4.9 4.9 0 1 0 -9.8 0ZM743.7 578a4.9 4.9 0 1 0 9.8 0a4.9 4.9 0 1 0 -9.8 0Z" fill="#CC7B38" stroke="none"/>
<polyline points="94.5,578 102.6,578 110.6,578 118.7,578 126.8,578 134.9,578 142.9,578 151,578 159.1,578 167.2,578 175.2,578 183.3,578 191.4,578 199.5,578 207.5,578 215.6,578 223.7,578 231.8,578 239.8,578 247.9,578 256,578 264.1,578 272.1,578 280.2,578 288.3,578 296.4,578 304.4,578 312.5,578 320.6,578 328.7,578 336.7,578 344.8,578 352.9,578 361,578 369,578 377.1,578 385.2,577 393.3,577 401.3,577 409.4,577 417.5,576.5 425.6,576 433.6,576 441.7,576 449.8,576 457.9,576 465.9,576 474,576 482.1,576 490.2,576 498.2,576 506.3,576 514.4,576 522.5,575.5 530.5,575 538.6,573 546.7,566.1 554.8,566.1 562.8,570.5 570.9,573 579,573.5 587.1,573.5 595.1,573.3 603.2,573 611.3,572.9 619.4,572.9 627.4,572.9 635.5,572.6 643.6,572.6 651.7,572.4 659.7,571.3 667.8,566.5 675.9,565.2 684,563.9 692,573.5 700.1,574 708.2,573.5 716.3,571.3 724.3,568.3 732.4,573.5 740.5,575 748.6,575.2" stroke="#4A7EBB" stroke-width="3"/>
<path d="M94.5 572.8v10.4M89.3 578h10.4M102.5 572.8v10.4M97.3 578h10.4M110.5 572.8v10.4M105.3 578h10.4M118.5 572.8v10.4M113.3 578h10.4M126.5 572.8v10.4M121.3 578h10.4M134.5 572.8v10.4M129.3 578h10.4M142.5 572.8v10.4M137.3 578h10.4M151.5 572.8v10.4M146.3 578h10.4M159.5 572.8v10.4M154.3 578h10.4M167.5 572.8v10.4M162.3 578h10.4M175.5 572.8v10.4M170.3 578h10.4M183.5 572.8v10.4M178.3 578h10.4M191.5 572.8v10.4M186.3 578h10.4M199.5 572.8v10.4M194.3 578h10.4M207.5 572.8v10.4M202.3 578h10.4M215.5 572.8v10.4M210.3 578h10.4M223.5 572.8v10.4M218.3 578h10.4M231.5 572.8v10.4M226.3 578h10.4M239.5 572.8v10.4M234.3 578h10.4M247.5 572.8v10.4M242.3 578h10.4M255.5 572.8v10.4M250.3 578h10.4M264.5 572.8v10.4M259.3 578h10.4M272.5 572.8v10.4M267.3 578h10.4M280.5 572.8v10.4M275.3 578h10.4M288.5 572.8v10.4M283.3 578h10.4M296.5 572.8v10.4M291.3 578h10.4M304.5 572.8v10.4M299.3 578h10.4M312.5 572.8v10.4M307.3 578h10.4M320.5 572.8v10.4M315.3 578h10.4M328.5 572.8v10.4M323.3 578h10.4M336.5 572.8v10.4M331.3 578h10.4M344.5 572.8v10.4M339.3 578h10.4M352.5 572.8v10.4M347.3 578h10.4M360.5 572.8v10.4M355.3 578h10.4M369.5 572.8v10.4M364.3 578h10.4M377.5 572.8v10.4M372.3 578h10.4M385.5 571.8v10.4M380.3 577h10.4M393.5 571.8v10.4M388.3 577h10.4M401.5 571.8v10.4M396.3 577h10.4M409.5 571.8v10.4M404.3 577h10.4M417.5 571.3v10.4M412.3 576.5h10.4M425.5 570.8v10.4M420.3 576h10.4M433.5 570.8v10.4M428.3 576h10.4M441.5 570.8v10.4M436.3 576h10.4M449.5 570.8v10.4M444.3 576h10.4M457.5 570.8v10.4M452.3 576h10.4M465.5 570.8v10.4M460.3 576h10.4M474.5 570.8v10.4M469.3 576h10.4M482.5 570.8v10.4M477.3 576h10.4M490.5 570.8v10.4M485.3 576h10.4M498.5 570.8v10.4M493.3 576h10.4M506.5 570.8v10.4M501.3 576h10.4M514.5 570.8v10.4M509.3 576h10.4M522.5 570.3v10.4M517.3 575.5h10.4M530.5 569.8v10.4M525.3 575h10.4M538.5 567.8v10.4M533.3 573h10.4M546.5 560.9v10.4M541.3 566.1h10.4M554.5 560.9v10.4M549.3 566.1h10.4M562.5 565.3v10.4M557.3 570.5h10.4M570.5 567.8v10.4M565.3 573h10.4M578.5 568.3v10.4M573.3 573.5h10.4M587.5 568.3v10.4M582.3 573.5h10.4M595.5 568.1v10.4M590.3 573.3h10.4M603.5 567.8v10.4M598.3 573h10.4M611.5 567.7v10.4M606.3 572.9h10.4M619.5 567.7v10.4M614.3 572.9h10.4M627.5 567.7v10.4M622.3 572.9h10.4M635.5 567.4v10.4M630.3 572.6h10.4M643.5 567.4v10.4M638.3 572.6h10.4M651.5 567.2v10.4M646.3 572.4h10.4M659.5 566.1v10.4M654.3 571.3h10.4M667.5 561.3v10.4M662.3 566.5h10.4M675.5 560v10.4M670.3 565.2h10.4M683.5 558.7v10.4M678.3 563.9h10.4M692.5 568.3v10.4M687.3 573.5h10.4M700.5 568.8v10.4M695.3 574h10.4M708.5 568.3v10.4M703.3 573.5h10.4M716.5 566.1v10.4M711.3 571.3h10.4M724.5 563.1v10.4M719.3 568.3h10.4M732.5 568.3v10.4M727.3 573.5h10.4M740.5 569.8v10.4M735.3 575h10.4M748.5 570v10.4M743.3 575.2h10.4" stroke="#4A7EBB" stroke-width="1" stroke-linecap="butt"/>
<polyline points="94.5,566.7 102.6,566.7 110.6,568.5 118.7,569.8 126.8,564.4 134.9,568.5 142.9,568.9 151,563.7 159.1,566.3 167.2,565.4 175.2,561 183.3,558.9 191.4,560.6 199.5,560.2 207.5,560.6 215.6,561.9 223.7,561.5 231.8,561 239.8,559.8 247.9,559.6 256,563 264.1,569 272.1,569.6 280.2,569.6 288.3,569.6 296.4,569.6 304.4,569.8 312.5,570.6 320.6,571.2 328.7,571.2 336.7,571.2 344.8,571.2 352.9,571.5 361,572 369,573 377.1,574 385.2,574.5 393.3,575 401.3,575.5 409.4,576 417.5,577.5 425.6,577.5 433.6,577.5 441.7,577.5 449.8,577.5 457.9,577.5 465.9,577.5 474,577.5 482.1,577.5 490.2,577.5 498.2,577.5 506.3,577.5 514.4,577.5 522.5,577.5 530.5,577.5 538.6,577.5 546.7,577.5 554.8,577.5 562.8,577.5 570.9,577.5 579,577.5 587.1,577.5 595.1,577.5 603.2,577.5 611.3,577.5 619.4,577.5 627.4,577.5 635.5,577.5 643.6,577.5 651.7,577.5 659.7,577.5 667.8,577.5 675.9,577.5 684,577.5 692,577.5 700.1,577.5 708.2,577.5 716.3,577.5 724.3,577.5 732.4,577.5 740.5,577.5 748.6,577.5" stroke="#BE4B48" stroke-width="3"/>
<polyline points="94.5,579.3 102.6,579.3 110.6,579.3 118.7,579.3 126.8,579.3 134.9,579.3 142.9,579.3 151,579.3 159.1,579.3 167.2,579.3 175.2,579.3 183.3,579.3 191.4,579.3 199.5,579.3 207.5,579.3 215.6,579.3 223.7,579.3 231.8,579.3 239.8,579.3 247.9,579.3 256,579.3 264.1,579.3 272.1,579.3 280.2,579.3 288.3,579.3 296.4,579.3 304.4,579.3 312.5,579.3 320.6,579.3 328.7,579.3 336.7,579.3 344.8,579.3 352.9,579.3 361,579.3 369,579.3 377.1,579.3 385.2,579.3 393.3,579.3 401.3,579.3 409.4,579.3 417.5,579.3 425.6,579.3 433.6,579.3 441.7,579.3 449.8,579.3 457.9,579.3 465.9,579.3 474,579.3 482.1,579.3 490.2,579.3 498.2,579.3 506.3,579.3 514.4,579.3 522.5,579.3 530.5,579.3 538.6,579.3 546.7,579.3 554.8,579.3 562.8,579.3 570.9,579.3 579,579.3 587.1,579.3 595.1,579.3 603.2,579.3 611.3,579.3 619.4,579.3 627.4,579.3 635.5,579.3 643.6,579.3 651.7,579.3 659.7,579.3 667.8,579.3 675.9,579.3 684,579.3 692,579.3 700.1,579.3 708.2,579.3 716.3,579.3 724.3,579.3 732.4,579.3 740.5,579.3 748.6,579.3" stroke="#98B954" stroke-width="3"/>
<polyline points="94.5,578.8 102.6,578.8 110.6,578.8 118.7,578.8 126.8,578.8 134.9,578.8 142.9,578.8 151,578.8 159.1,578.8 167.2,578.8 175.2,578.8 183.3,578.8 191.4,578.8 199.5,578.8 207.5,578.8 215.6,578.8 223.7,578.8 231.8,578.8 239.8,578.8 247.9,578.8 256,578.8 264.1,578.8 272.1,578.8 280.2,578.8 288.3,578.8 296.4,578.8 304.4,578.8 312.5,578.8 320.6,578.8 328.7,578.8 336.7,578.8 344.8,578.8 352.9,578.8 361,578.8 369,578.8 377.1,578.8 385.2,578.8 393.3,578.8 401.3,578.8 409.4,578.8 417.5,578.8 425.6,578.8 433.6,578.8 441.7,578.8 449.8,578.8 457.9,578.8 465.9,578.8 474,578.8 482.1,578.8 490.2,578.8 498.2,578.8 506.3,578.8 514.4,578.8 522.5,578.8 530.5,578.8 538.6,578.8 546.7,578.8 554.8,578.8 562.8,578.8 570.9,578.8 579,578.8 587.1,578.8 595.1,578.8 603.2,578.8 611.3,578.8 619.4,578.8 627.4,578.8 635.5,578.8 643.6,578.8 651.7,578.8 659.7,578.8 667.8,578.8 675.9,578.8 684,578.8 692,578.8 700.1,578.8 708.2,578.8 716.3,578.8 724.3,578.8 732.4,578.8 740.5,578.8 748.6,578.8" stroke="#7D60A0" stroke-width="3"/>
<path d="M94.5 573.9L99.4 578.8L94.5 583.7L89.6 578.8ZM102.6 573.9L107.5 578.8L102.6 583.7L97.7 578.8ZM110.6 573.9L115.5 578.8L110.6 583.7L105.7 578.8ZM118.7 573.9L123.6 578.8L118.7 583.7L113.8 578.8ZM126.8 573.9L131.7 578.8L126.8 583.7L121.9 578.8ZM134.9 573.9L139.8 578.8L134.9 583.7L130 578.8ZM142.9 573.9L147.8 578.8L142.9 583.7L138 578.8ZM151 573.9L155.9 578.8L151 583.7L146.1 578.8ZM159.1 573.9L164 578.8L159.1 583.7L154.2 578.8ZM167.2 573.9L172.1 578.8L167.2 583.7L162.3 578.8ZM175.2 573.9L180.1 578.8L175.2 583.7L170.3 578.8ZM183.3 573.9L188.2 578.8L183.3 583.7L178.4 578.8ZM191.4 573.9L196.3 578.8L191.4 583.7L186.5 578.8ZM199.5 573.9L204.4 578.8L199.5 583.7L194.6 578.8ZM207.5 573.9L212.4 578.8L207.5 583.7L202.6 578.8ZM215.6 573.9L220.5 578.8L215.6 583.7L210.7 578.8ZM223.7 573.9L228.6 578.8L223.7 583.7L218.8 578.8ZM231.8 573.9L236.7 578.8L231.8 583.7L226.9 578.8ZM239.8 573.9L244.7 578.8L239.8 583.7L234.9 578.8ZM247.9 573.9L252.8 578.8L247.9 583.7L243 578.8ZM256 573.9L260.9 578.8L256 583.7L251.1 578.8ZM264.1 573.9L269 578.8L264.1 583.7L259.2 578.8ZM272.1 573.9L277 578.8L272.1 583.7L267.2 578.8ZM280.2 573.9L285.1 578.8L280.2 583.7L275.3 578.8ZM288.3 573.9L293.2 578.8L288.3 583.7L283.4 578.8ZM296.4 573.9L301.3 578.8L296.4 583.7L291.5 578.8ZM304.4 573.9L309.3 578.8L304.4 583.7L299.5 578.8ZM312.5 573.9L317.4 578.8L312.5 583.7L307.6 578.8ZM320.6 573.9L325.5 578.8L320.6 583.7L315.7 578.8ZM328.7 573.9L333.6 578.8L328.7 583.7L323.8 578.8ZM336.7 573.9L341.6 578.8L336.7 583.7L331.8 578.8ZM344.8 573.9L349.7 578.8L344.8 583.7L339.9 578.8ZM352.9 573.9L357.8 578.8L352.9 583.7L348 578.8ZM361 573.9L365.9 578.8L361 583.7L356.1 578.8ZM369 573.9L373.9 578.8L369 583.7L364.1 578.8ZM377.1 573.9L382 578.8L377.1 583.7L372.2 578.8ZM385.2 573.9L390.1 578.8L385.2 583.7L380.3 578.8ZM393.3 573.9L398.2 578.8L393.3 583.7L388.4 578.8ZM401.3 573.9L406.2 578.8L401.3 583.7L396.4 578.8ZM409.4 573.9L414.3 578.8L409.4 583.7L404.5 578.8ZM417.5 573.9L422.4 578.8L417.5 583.7L412.6 578.8ZM425.6 573.9L430.5 578.8L425.6 583.7L420.7 578.8ZM433.6 573.9L438.5 578.8L433.6 583.7L428.7 578.8ZM441.7 573.9L446.6 578.8L441.7 583.7L436.8 578.8ZM449.8 573.9L454.7 578.8L449.8 583.7L444.9 578.8ZM457.9 573.9L462.8 578.8L457.9 583.7L453 578.8ZM465.9 573.9L470.8 578.8L465.9 583.7L461 578.8ZM474 573.9L478.9 578.8L474 583.7L469.1 578.8ZM482.1 573.9L487 578.8L482.1 583.7L477.2 578.8ZM490.2 573.9L495.1 578.8L490.2 583.7L485.3 578.8ZM498.2 573.9L503.1 578.8L498.2 583.7L493.3 578.8ZM506.3 573.9L511.2 578.8L506.3 583.7L501.4 578.8ZM514.4 573.9L519.3 578.8L514.4 583.7L509.5 578.8ZM522.5 573.9L527.4 578.8L522.5 583.7L517.6 578.8ZM530.5 573.9L535.4 578.8L530.5 583.7L525.6 578.8ZM538.6 573.9L543.5 578.8L538.6 583.7L533.7 578.8ZM546.7 573.9L551.6 578.8L546.7 583.7L541.8 578.8ZM554.8 573.9L559.7 578.8L554.8 583.7L549.9 578.8ZM562.8 573.9L567.7 578.8L562.8 583.7L557.9 578.8ZM570.9 573.9L575.8 578.8L570.9 583.7L566 578.8ZM579 573.9L583.9 578.8L579 583.7L574.1 578.8ZM587.1 573.9L592 578.8L587.1 583.7L582.2 578.8ZM595.1 573.9L600 578.8L595.1 583.7L590.2 578.8ZM603.2 573.9L608.1 578.8L603.2 583.7L598.3 578.8ZM611.3 573.9L616.2 578.8L611.3 583.7L606.4 578.8ZM619.4 573.9L624.3 578.8L619.4 583.7L614.5 578.8ZM627.4 573.9L632.3 578.8L627.4 583.7L622.5 578.8ZM635.5 573.9L640.4 578.8L635.5 583.7L630.6 578.8ZM643.6 573.9L648.5 578.8L643.6 583.7L638.7 578.8ZM651.7 573.9L656.6 578.8L651.7 583.7L646.8 578.8ZM659.7 573.9L664.6 578.8L659.7 583.7L654.8 578.8ZM667.8 573.9L672.7 578.8L667.8 583.7L662.9 578.8ZM675.9 573.9L680.8 578.8L675.9 583.7L671 578.8ZM684 573.9L688.9 578.8L684 583.7L679.1 578.8ZM692 573.9L696.9 578.8L692 583.7L687.1 578.8ZM700.1 573.9L705 578.8L700.1 583.7L695.2 578.8ZM708.2 573.9L713.1 578.8L708.2 583.7L703.3 578.8ZM716.3 573.9L721.2 578.8L716.3 583.7L711.4 578.8ZM724.3 573.9L729.2 578.8L724.3 583.7L719.4 578.8ZM732.4 573.9L737.3 578.8L732.4 583.7L727.5 578.8ZM740.5 573.9L745.4 578.8L740.5 583.7L735.6 578.8ZM748.6 573.9L753.5 578.8L748.6 583.7L743.7 578.8Z" fill="#7D60A0" stroke="none"/>
<polyline points="94.5,576.5 102.6,576.5 110.6,576.5 118.7,576.5 126.8,576.5 134.9,576.5 142.9,576.5 151,576.5 159.1,576.5 167.2,576.5 175.2,575.5 183.3,575.5 191.4,575.5 199.5,575.5 207.5,575.5 215.6,575.5 223.7,575.5 231.8,575.5 239.8,575.5 247.9,575.5 256,575.5 264.1,575.5 272.1,575.5 280.2,575.5 288.3,575.5 296.4,575.5 304.4,575.5 312.5,575.5 320.6,575.5 328.7,575.5 336.7,575.5 344.8,575.5 352.9,575.5 361,575.5 369,575.5 377.1,575 385.2,574.6 393.3,574.6 401.3,574.6 409.4,574.6 417.5,574.6 425.6,574 433.6,572 441.7,572 449.8,572 457.9,572 465.9,572 474,572.3 482.1,574.5 490.2,575.5 498.2,575.5 506.3,575.5 514.4,575.5 522.5,575.5 530.5,577 538.6,577.6 546.7,577.6 554.8,577.6 562.8,577.6 570.9,577.6 579,577.8 587.1,578 595.1,578.3 603.2,578.5 611.3,578.8 619.4,578.8 627.4,579 635.5,579 643.6,579 651.7,579 659.7,579 667.8,579 675.9,579 684,579 692,579 700.1,579 708.2,579 716.3,579 724.3,579 732.4,579 740.5,579 748.6,579" stroke="#46AAC5" stroke-width="3"/>
<path d="M89.6 571.6h9.8v9.8h-9.8ZM97.7 571.6h9.8v9.8h-9.8ZM105.7 571.6h9.8v9.8h-9.8ZM113.8 571.6h9.8v9.8h-9.8ZM121.9 571.6h9.8v9.8h-9.8ZM130 571.6h9.8v9.8h-9.8ZM138 571.6h9.8v9.8h-9.8ZM146.1 571.6h9.8v9.8h-9.8ZM154.2 571.6h9.8v9.8h-9.8ZM162.3 571.6h9.8v9.8h-9.8ZM170.3 570.6h9.8v9.8h-9.8ZM178.4 570.6h9.8v9.8h-9.8ZM186.5 570.6h9.8v9.8h-9.8ZM194.6 570.6h9.8v9.8h-9.8ZM202.6 570.6h9.8v9.8h-9.8ZM210.7 570.6h9.8v9.8h-9.8ZM218.8 570.6h9.8v9.8h-9.8ZM226.9 570.6h9.8v9.8h-9.8ZM234.9 570.6h9.8v9.8h-9.8ZM243 570.6h9.8v9.8h-9.8ZM251.1 570.6h9.8v9.8h-9.8ZM259.2 570.6h9.8v9.8h-9.8ZM267.2 570.6h9.8v9.8h-9.8ZM275.3 570.6h9.8v9.8h-9.8ZM283.4 570.6h9.8v9.8h-9.8ZM291.5 570.6h9.8v9.8h-9.8ZM299.5 570.6h9.8v9.8h-9.8ZM307.6 570.6h9.8v9.8h-9.8ZM315.7 570.6h9.8v9.8h-9.8ZM323.8 570.6h9.8v9.8h-9.8ZM331.8 570.6h9.8v9.8h-9.8ZM339.9 570.6h9.8v9.8h-9.8ZM348 570.6h9.8v9.8h-9.8ZM356.1 570.6h9.8v9.8h-9.8ZM364.1 570.6h9.8v9.8h-9.8ZM372.2 570.1h9.8v9.8h-9.8ZM380.3 569.7h9.8v9.8h-9.8ZM388.4 569.7h9.8v9.8h-9.8ZM396.4 569.7h9.8v9.8h-9.8ZM404.5 569.7h9.8v9.8h-9.8ZM412.6 569.7h9.8v9.8h-9.8ZM420.7 569.1h9.8v9.8h-9.8ZM428.7 567.1h9.8v9.8h-9.8ZM436.8 567.1h9.8v9.8h-9.8ZM444.9 567.1h9.8v9.8h-9.8ZM453 567.1h9.8v9.8h-9.8ZM461 567.1h9.8v9.8h-9.8ZM469.1 567.4h9.8v9.8h-9.8ZM477.2 569.6h9.8v9.8h-9.8ZM485.3 570.6h9.8v9.8h-9.8ZM493.3 570.6h9.8v9.8h-9.8ZM501.4 570.6h9.8v9.8h-9.8ZM509.5 570.6h9.8v9.8h-9.8ZM517.6 570.6h9.8v9.8h-9.8ZM525.6 572.1h9.8v9.8h-9.8ZM533.7 572.7h9.8v9.8h-9.8ZM541.8 572.7h9.8v9.8h-9.8ZM549.9 572.7h9.8v9.8h-9.8ZM557.9 572.7h9.8v9.8h-9.8ZM566 572.7h9.8v9.8h-9.8ZM574.1 572.9h9.8v9.8h-9.8ZM582.2 573.1h9.8v9.8h-9.8ZM590.2 573.4h9.8v9.8h-9.8ZM598.3 573.6h9.8v9.8h-9.8ZM606.4 573.9h9.8v9.8h-9.8ZM614.5 573.9h9.8v9.8h-9.8ZM622.5 574.1h9.8v9.8h-9.8ZM630.6 574.1h9.8v9.8h-9.8ZM638.7 574.1h9.8v9.8h-9.8ZM646.8 574.1h9.8v9.8h-9.8ZM654.8 574.1h9.8v9.8h-9.8ZM662.9 574.1h9.8v9.8h-9.8ZM671 574.1h9.8v9.8h-9.8ZM679.1 574.1h9.8v9.8h-9.8ZM687.1 574.1h9.8v9.8h-9.8ZM695.2 574.1h9.8v9.8h-9.8ZM703.3 574.1h9.8v9.8h-9.8ZM711.4 574.1h9.8v9.8h-9.8ZM719.4 574.1h9.8v9.8h-9.8ZM727.5 574.1h9.8v9.8h-9.8ZM735.6 574.1h9.8v9.8h-9.8ZM743.7 574.1h9.8v9.8h-9.8Z" fill="#46AAC5" stroke="none"/>
<polyline points="94.5,579.6 102.6,579.6 110.6,579.6 118.7,579.6 126.8,579.6 134.9,579.6 142.9,579.6 151,579.6 159.1,579.6 167.2,579.6 175.2,579.6 183.3,579.6 191.4,579.6 199.5,579.6 207.5,579.6 215.6,579.6 223.7,579.6 231.8,579.6 239.8,579.6 247.9,579.6 256,579.6 264.1,579.6 272.1,579.6 280.2,579.6 288.3,579.6 296.4,579.6 304.4,579.6 312.5,579.6 320.6,579.6 328.7,579.6 336.7,579.6 344.8,579.6 352.9,579.6 361,579.6 369,579.6 377.1,579.6 385.2,579.6 393.3,579.6 401.3,579.6 409.4,579.6 417.5,579.6 425.6,579.6 433.6,579.6 441.7,579.6 449.8,579.6 457.9,579.6 465.9,579.6 474,579.6 482.1,579.6 490.2,579.6 498.2,579.6 506.3,579.6 514.4,579.6 522.5,579.6 530.5,579.6 538.6,579.6 546.7,579.6 554.8,579.6 562.8,579.6 570.9,579.6 579,579.6 587.1,579.6 595.1,579.6 603.2,579.6 611.3,579.6 619.4,579.6 627.4,579.6 635.5,579.6 643.6,579.6 651.7,579.6 659.7,579.6 667.8,579.6 675.9,579.6 684,579.6 692,579.6 700.1,579.6 708.2,579.6 716.3,579.6 724.3,579.6 732.4,579.6 740.5,579.6 748.6,579.6" stroke="#F79646" stroke-width="3"/>
<path d="M94.5 574.7L99.4 584.5L89.6 584.5ZM102.6 574.7L107.5 584.5L97.7 584.5ZM110.6 574.7L115.5 584.5L105.7 584.5ZM118.7 574.7L123.6 584.5L113.8 584.5ZM126.8 574.7L131.7 584.5L121.9 584.5ZM134.9 574.7L139.8 584.5L130 584.5ZM142.9 574.7L147.8 584.5L138 584.5ZM151 574.7L155.9 584.5L146.1 584.5ZM159.1 574.7L164 584.5L154.2 584.5ZM167.2 574.7L172.1 584.5L162.3 584.5ZM175.2 574.7L180.1 584.5L170.3 584.5ZM183.3 574.7L188.2 584.5L178.4 584.5ZM191.4 574.7L196.3 584.5L186.5 584.5ZM199.5 574.7L204.4 584.5L194.6 584.5ZM207.5 574.7L212.4 584.5L202.6 584.5ZM215.6 574.7L220.5 584.5L210.7 584.5ZM223.7 574.7L228.6 584.5L218.8 584.5ZM231.8 574.7L236.7 584.5L226.9 584.5ZM239.8 574.7L244.7 584.5L234.9 584.5ZM247.9 574.7L252.8 584.5L243 584.5ZM256 574.7L260.9 584.5L251.1 584.5ZM264.1 574.7L269 584.5L259.2 584.5ZM272.1 574.7L277 584.5L267.2 584.5ZM280.2 574.7L285.1 584.5L275.3 584.5ZM288.3 574.7L293.2 584.5L283.4 584.5ZM296.4 574.7L301.3 584.5L291.5 584.5ZM304.4 574.7L309.3 584.5L299.5 584.5ZM312.5 574.7L317.4 584.5L307.6 584.5ZM320.6 574.7L325.5 584.5L315.7 584.5ZM328.7 574.7L333.6 584.5L323.8 584.5ZM336.7 574.7L341.6 584.5L331.8 584.5ZM344.8 574.7L349.7 584.5L339.9 584.5ZM352.9 574.7L357.8 584.5L348 584.5ZM361 574.7L365.9 584.5L356.1 584.5ZM369 574.7L373.9 584.5L364.1 584.5ZM377.1 574.7L382 584.5L372.2 584.5ZM385.2 574.7L390.1 584.5L380.3 584.5ZM393.3 574.7L398.2 584.5L388.4 584.5ZM401.3 574.7L406.2 584.5L396.4 584.5ZM409.4 574.7L414.3 584.5L404.5 584.5ZM417.5 574.7L422.4 584.5L412.6 584.5ZM425.6 574.7L430.5 584.5L420.7 584.5ZM433.6 574.7L438.5 584.5L428.7 584.5ZM441.7 574.7L446.6 584.5L436.8 584.5ZM449.8 574.7L454.7 584.5L444.9 584.5ZM457.9 574.7L462.8 584.5L453 584.5ZM465.9 574.7L470.8 584.5L461 584.5ZM474 574.7L478.9 584.5L469.1 584.5ZM482.1 574.7L487 584.5L477.2 584.5ZM490.2 574.7L495.1 584.5L485.3 584.5ZM498.2 574.7L503.1 584.5L493.3 584.5ZM506.3 574.7L511.2 584.5L501.4 584.5ZM514.4 574.7L519.3 584.5L509.5 584.5ZM522.5 574.7L527.4 584.5L517.6 584.5ZM530.5 574.7L535.4 584.5L525.6 584.5ZM538.6 574.7L543.5 584.5L533.7 584.5ZM546.7 574.7L551.6 584.5L541.8 584.5ZM554.8 574.7L559.7 584.5L549.9 584.5ZM562.8 574.7L567.7 584.5L557.9 584.5ZM570.9 574.7L575.8 584.5L566 584.5ZM579 574.7L583.9 584.5L574.1 584.5ZM587.1 574.7L592 584.5L582.2 584.5ZM595.1 574.7L600 584.5L590.2 584.5ZM603.2 574.7L608.1 584.5L598.3 584.5ZM611.3 574.7L616.2 584.5L606.4 584.5ZM619.4 574.7L624.3 584.5L614.5 584.5ZM627.4 574.7L632.3 584.5L622.5 584.5ZM635.5 574.7L640.4 584.5L630.6 584.5ZM643.6 574.7L648.5 584.5L638.7 584.5ZM651.7 574.7L656.6 584.5L646.8 584.5ZM659.7 574.7L664.6 584.5L654.8 584.5ZM667.8 574.7L672.7 584.5L662.9 584.5ZM675.9 574.7L680.8 584.5L671 584.5ZM684 574.7L688.9 584.5L679.1 584.5ZM692 574.7L696.9 584.5L687.1 584.5ZM700.1 574.7L705 584.5L695.2 584.5ZM708.2 574.7L713.1 584.5L703.3 584.5ZM716.3 574.7L721.2 584.5L711.4 584.5ZM724.3 574.7L729.2 584.5L719.4 584.5ZM732.4 574.7L737.3 584.5L727.5 584.5ZM740.5 574.7L745.4 584.5L735.6 584.5ZM748.6 574.7L753.5 584.5L743.7 584.5Z" fill="#F79646" stroke="none"/>
<polyline points="94.5,579.3 102.6,579.3 110.6,579.3 118.7,579.3 126.8,579.3 134.9,579.3 142.9,579.3 151,579.3 159.1,579.3 167.2,579.3 175.2,579.3 183.3,579.3 191.4,579.3 199.5,579.3 207.5,579.3 215.6,579.3 223.7,579.3 231.8,579.3 239.8,579.3 247.9,579.3 256,579.3 264.1,579.3 272.1,579.3 280.2,579.3 288.3,579.3 296.4,579.3 304.4,579.3 312.5,579.3 320.6,579.3 328.7,579.3 336.7,579.3 344.8,579.3 352.9,579.3 361,579.3 369,579.3 377.1,579.3 385.2,579.3 393.3,579.3 401.3,579.3 409.4,579.3 417.5,579.3 425.6,579.3 433.6,579.3 441.7,579.3 449.8,579.3 457.9,579.3 465.9,579.3 474,579.3 482.1,579.3 490.2,579.3 498.2,579.3 506.3,579.3 514.4,579.3 522.5,579.3 530.5,579.3 538.6,579.3 546.7,579.3 554.8,579.3 562.8,579.3 570.9,579.3 579,579.3 587.1,579.3 595.1,579.3 603.2,579.3 611.3,579.3 619.4,579.3 627.4,579.3 635.5,579.3 643.6,579.3 651.7,579.3 659.7,579.3 667.8,579.3 675.9,579.3 684,579.3 692,579.3 700.1,579.3 708.2,579.3 716.3,579.3 724.3,579.3 732.4,579.3 740.5,579.3 748.6,579.3" stroke="#A7B8D9" stroke-width="3"/>
<path d="M89.3 574.1l10.4 10.4M89.3 584.5l10.4 -10.4M97.3 574.1l10.4 10.4M97.3 584.5l10.4 -10.4M105.3 574.1l10.4 10.4M105.3 584.5l10.4 -10.4M113.3 574.1l10.4 10.4M113.3 584.5l10.4 -10.4M121.3 574.1l10.4 10.4M121.3 584.5l10.4 -10.4M129.3 574.1l10.4 10.4M129.3 584.5l10.4 -10.4M137.3 574.1l10.4 10.4M137.3 584.5l10.4 -10.4M146.3 574.1l10.4 10.4M146.3 584.5l10.4 -10.4M154.3 574.1l10.4 10.4M154.3 584.5l10.4 -10.4M162.3 574.1l10.4 10.4M162.3 584.5l10.4 -10.4M170.3 574.1l10.4 10.4M170.3 584.5l10.4 -10.4M178.3 574.1l10.4 10.4M178.3 584.5l10.4 -10.4M186.3 574.1l10.4 10.4M186.3 584.5l10.4 -10.4M194.3 574.1l10.4 10.4M194.3 584.5l10.4 -10.4M202.3 574.1l10.4 10.4M202.3 584.5l10.4 -10.4M210.3 574.1l10.4 10.4M210.3 584.5l10.4 -10.4M218.3 574.1l10.4 10.4M218.3 584.5l10.4 -10.4M226.3 574.1l10.4 10.4M226.3 584.5l10.4 -10.4M234.3 574.1l10.4 10.4M234.3 584.5l10.4 -10.4M242.3 574.1l10.4 10.4M242.3 584.5l10.4 -10.4M250.3 574.1l10.4 10.4M250.3 584.5l10.4 -10.4M259.3 574.1l10.4 10.4M259.3 584.5l10.4 -10.4M267.3 574.1l10.4 10.4M267.3 584.5l10.4 -10.4M275.3 574.1l10.4 10.4M275.3 584.5l10.4 -10.4M283.3 574.1l10.4 10.4M283.3 584.5l10.4 -10.4M291.3 574.1l10.4 10.4M291.3 584.5l10.4 -10.4M299.3 574.1l10.4 10.4M299.3 584.5l10.4 -10.4M307.3 574.1l10.4 10.4M307.3 584.5l10.4 -10.4M315.3 574.1l10.4 10.4M315.3 584.5l10.4 -10.4M323.3 574.1l10.4 10.4M323.3 584.5l10.4 -10.4M331.3 574.1l10.4 10.4M331.3 584.5l10.4 -10.4M339.3 574.1l10.4 10.4M339.3 584.5l10.4 -10.4M347.3 574.1l10.4 10.4M347.3 584.5l10.4 -10.4M355.3 574.1l10.4 10.4M355.3 584.5l10.4 -10.4M364.3 574.1l10.4 10.4M364.3 584.5l10.4 -10.4M372.3 574.1l10.4 10.4M372.3 584.5l10.4 -10.4M380.3 574.1l10.4 10.4M380.3 584.5l10.4 -10.4M388.3 574.1l10.4 10.4M388.3 584.5l10.4 -10.4M396.3 574.1l10.4 10.4M396.3 584.5l10.4 -10.4M404.3 574.1l10.4 10.4M404.3 584.5l10.4 -10.4M412.3 574.1l10.4 10.4M412.3 584.5l10.4 -10.4M420.3 574.1l10.4 10.4M420.3 584.5l10.4 -10.4M428.3 574.1l10.4 10.4M428.3 584.5l10.4 -10.4M436.3 574.1l10.4 10.4M436.3 584.5l10.4 -10.4M444.3 574.1l10.4 10.4M444.3 584.5l10.4 -10.4M452.3 574.1l10.4 10.4M452.3 584.5l10.4 -10.4M460.3 574.1l10.4 10.4M460.3 584.5l10.4 -10.4M469.3 574.1l10.4 10.4M469.3 584.5l10.4 -10.4M477.3 574.1l10.4 10.4M477.3 584.5l10.4 -10.4M485.3 574.1l10.4 10.4M485.3 584.5l10.4 -10.4M493.3 574.1l10.4 10.4M493.3 584.5l10.4 -10.4M501.3 574.1l10.4 10.4M501.3 584.5l10.4 -10.4M509.3 574.1l10.4 10.4M509.3 584.5l10.4 -10.4M517.3 574.1l10.4 10.4M517.3 584.5l10.4 -10.4M525.3 574.1l10.4 10.4M525.3 584.5l10.4 -10.4M533.3 574.1l10.4 10.4M533.3 584.5l10.4 -10.4M541.3 574.1l10.4 10.4M541.3 584.5l10.4 -10.4M549.3 574.1l10.4 10.4M549.3 584.5l10.4 -10.4M557.3 574.1l10.4 10.4M557.3 584.5l10.4 -10.4M565.3 574.1l10.4 10.4M565.3 584.5l10.4 -10.4M573.3 574.1l10.4 10.4M573.3 584.5l10.4 -10.4M582.3 574.1l10.4 10.4M582.3 584.5l10.4 -10.4M590.3 574.1l10.4 10.4M590.3 584.5l10.4 -10.4M598.3 574.1l10.4 10.4M598.3 584.5l10.4 -10.4M606.3 574.1l10.4 10.4M606.3 584.5l10.4 -10.4M614.3 574.1l10.4 10.4M614.3 584.5l10.4 -10.4M622.3 574.1l10.4 10.4M622.3 584.5l10.4 -10.4M630.3 574.1l10.4 10.4M630.3 584.5l10.4 -10.4M638.3 574.1l10.4 10.4M638.3 584.5l10.4 -10.4M646.3 574.1l10.4 10.4M646.3 584.5l10.4 -10.4M654.3 574.1l10.4 10.4M654.3 584.5l10.4 -10.4M662.3 574.1l10.4 10.4M662.3 584.5l10.4 -10.4M670.3 574.1l10.4 10.4M670.3 584.5l10.4 -10.4M678.3 574.1l10.4 10.4M678.3 584.5l10.4 -10.4M687.3 574.1l10.4 10.4M687.3 584.5l10.4 -10.4M695.3 574.1l10.4 10.4M695.3 584.5l10.4 -10.4M703.3 574.1l10.4 10.4M703.3 584.5l10.4 -10.4M711.3 574.1l10.4 10.4M711.3 584.5l10.4 -10.4M719.3 574.1l10.4 10.4M719.3 584.5l10.4 -10.4M727.3 574.1l10.4 10.4M727.3 584.5l10.4 -10.4M735.3 574.1l10.4 10.4M735.3 584.5l10.4 -10.4M743.3 574.1l10.4 10.4M743.3 584.5l10.4 -10.4" stroke="#A7B8D9" stroke-width="1" stroke-linecap="butt"/>
<polyline points="94.5,292.3 102.6,284.7 110.6,287.5 118.7,279.3 126.8,265.4 134.9,270.2 142.9,244.5 151,315.7 159.1,312.2 167.2,306 175.2,344.1 183.3,350.3 191.4,345.5 199.5,351.5 207.5,298.1 215.6,292.3 223.7,292.3 231.8,287.7 239.8,293.8 247.9,290.3 256,281.6 264.1,250.6 272.1,265.1 280.2,243.8 288.3,248.7 296.4,242.9 304.4,249.3 312.5,238 320.6,244.8 328.7,238 336.7,237.7 344.8,245.8 352.9,211 361,206.1 369,200.3 377.1,194.5 385.2,187.8 393.3,187.8 401.3,180.3 409.4,173.5 417.5,174.5 425.6,170.2 433.6,120.7 441.7,126.5 449.8,112.2 457.9,105.4 465.9,89.9 474,94.2 482.1,90.3 490.2,92.8 498.2,99 506.3,99 514.4,98.1 522.5,99.6 530.5,99 538.6,100.2 546.7,143.5 554.8,142.5 562.8,114.5 570.9,118.9 579,106.7 587.1,96.5 595.1,101.5 603.2,101.5 611.3,103.5 619.4,103.5 627.4,101.9 635.5,92.2 643.6,92.2 651.7,88 659.7,93 667.8,77.8 675.9,81.3 684,81.4 692,105.1 700.1,110 708.2,100.5 716.3,73.9 724.3,76.5 732.4,62.3 740.5,62.6 748.6,64.3" stroke="#D9A5A4" stroke-width="3"/>
<path d="M89.3 287.1l10.4 10.4M89.3 297.5l10.4 -10.4M94.5 287.1v10.4M97.3 279.5l10.4 10.4M97.3 289.9l10.4 -10.4M102.5 279.5v10.4M105.3 282.3l10.4 10.4M105.3 292.7l10.4 -10.4M110.5 282.3v10.4M113.3 274.1l10.4 10.4M113.3 284.5l10.4 -10.4M118.5 274.1v10.4M121.3 260.2l10.4 10.4M121.3 270.6l10.4 -10.4M126.5 260.2v10.4M129.3 265l10.4 10.4M129.3 275.4l10.4 -10.4M134.5 265v10.4M137.3 239.3l10.4 10.4M137.3 249.7l10.4 -10.4M142.5 239.3v10.4M146.3 310.5l10.4 10.4M146.3 320.9l10.4 -10.4M151.5 310.5v10.4M154.3 307l10.4 10.4M154.3 317.4l10.4 -10.4M159.5 307v10.4M162.3 300.8l10.4 10.4M162.3 311.2l10.4 -10.4M167.5 300.8v10.4M170.3 338.9l10.4 10.4M170.3 349.3l10.4 -10.4M175.5 338.9v10.4M178.3 345.1l10.4 10.4M178.3 355.5l10.4 -10.4M183.5 345.1v10.4M186.3 340.3l10.4 10.4M186.3 350.7l10.4 -10.4M191.5 340.3v10.4M194.3 346.3l10.4 10.4M194.3 356.7l10.4 -10.4M199.5 346.3v10.4M202.3 292.9l10.4 10.4M202.3 303.3l10.4 -10.4M207.5 292.9v10.4M210.3 287.1l10.4 10.4M210.3 297.5l10.4 -10.4M215.5 287.1v10.4M218.3 287.1l10.4 10.4M218.3 297.5l10.4 -10.4M223.5 287.1v10.4M226.3 282.5l10.4 10.4M226.3 292.9l10.4 -10.4M231.5 282.5v10.4M234.3 288.6l10.4 10.4M234.3 299l10.4 -10.4M239.5 288.6v10.4M242.3 285.1l10.4 10.4M242.3 295.5l10.4 -10.4M247.5 285.1v10.4M250.3 276.4l10.4 10.4M250.3 286.8l10.4 -10.4M255.5 276.4v10.4M259.3 245.4l10.4 10.4M259.3 255.8l10.4 -10.4M264.5 245.4v10.4M267.3 259.9l10.4 10.4M267.3 270.3l10.4 -10.4M272.5 259.9v10.4M275.3 238.6l10.4 10.4M275.3 249l10.4 -10.4M280.5 238.6v10.4M283.3 243.5l10.4 10.4M283.3 253.9l10.4 -10.4M288.5 243.5v10.4M291.3 237.7l10.4 10.4M291.3 248.1l10.4 -10.4M296.5 237.7v10.4M299.3 244.1l10.4 10.4M299.3 254.5l10.4 -10.4M304.5 244.1v10.4M307.3 232.8l10.4 10.4M307.3 243.2l10.4 -10.4M312.5 232.8v10.4M315.3 239.6l10.4 10.4M315.3 250l10.4 -10.4M320.5 239.6v10.4M323.3 232.8l10.4 10.4M323.3 243.2l10.4 -10.4M328.5 232.8v10.4M331.3 232.5l10.4 10.4M331.3 242.9l10.4 -10.4M336.5 232.5v10.4M339.3 240.6l10.4 10.4M339.3 251l10.4 -10.4M344.5 240.6v10.4M347.3 205.8l10.4 10.4M347.3 216.2l10.4 -10.4M352.5 205.8v10.4M355.3 200.9l10.4 10.4M355.3 211.3l10.4 -10.4M360.5 200.9v10.4M364.3 195.1l10.4 10.4M364.3 205.5l10.4 -10.4M369.5 195.1v10.4M372.3 189.3l10.4 10.4M372.3 199.7l10.4 -10.4M377.5 189.3v10.4M380.3 182.6l10.4 10.4M380.3 193l10.4 -10.4M385.5 182.6v10.4M388.3 182.6l10.4 10.4M388.3 193l10.4 -10.4M393.5 182.6v10.4M396.3 175.1l10.4 10.4M396.3 185.5l10.4 -10.4M401.5 175.1v10.4M404.3 168.3l10.4 10.4M404.3 178.7l10.4 -10.4M409.5 168.3v10.4M412.3 169.3l10.4 10.4M412.3 179.7l10.4 -10.4M417.5 169.3v10.4M420.3 165l10.4 10.4M420.3 175.4l10.4 -10.4M425.5 165v10.4M428.3 115.5l10.4 10.4M428.3 125.9l10.4 -10.4M433.5 115.5v10.4M436.3 121.3l10.4 10.4M436.3 131.7l10.4 -10.4M441.5 121.3v10.4M444.3 107l10.4 10.4M444.3 117.4l10.4 -10.4M449.5 107v10.4M452.3 100.2l10.4 10.4M452.3 110.6l10.4 -10.4M457.5 100.2v10.4M460.3 84.7l10.4 10.4M460.3 95.1l10.4 -10.4M465.5 84.7v10.4M469.3 89l10.4 10.4M469.3 99.4l10.4 -10.4M474.5 89v10.4M477.3 85.1l10.4 10.4M477.3 95.5l10.4 -10.4M482.5 85.1v10.4M485.3 87.6l10.4 10.4M485.3 98l10.4 -10.4M490.5 87.6v10.4M493.3 93.8l10.4 10.4M493.3 104.2l10.4 -10.4M498.5 93.8v10.4M501.3 93.8l10.4 10.4M501.3 104.2l10.4 -10.4M506.5 93.8v10.4M509.3 92.9l10.4 10.4M509.3 103.3l10.4 -10.4M514.5 92.9v10.4M517.3 94.4l10.4 10.4M517.3 104.8l10.4 -10.4M522.5 94.4v10.4M525.3 93.8l10.4 10.4M525.3 104.2l10.4 -10.4M530.5 93.8v10.4M533.3 95l10.4 10.4M533.3 105.4l10.4 -10.4M538.5 95v10.4M541.3 138.3l10.4 10.4M541.3 148.7l10.4 -10.4M546.5 138.3v10.4M549.3 137.3l10.4 10.4M549.3 147.7l10.4 -10.4M554.5 137.3v10.4M557.3 109.3l10.4 10.4M557.3 119.7l10.4 -10.4M562.5 109.3v10.4M565.3 113.7l10.4 10.4M565.3 124.1l10.4 -10.4M570.5 113.7v10.4M573.3 101.5l10.4 10.4M573.3 111.9l10.4 -10.4M578.5 101.5v10.4M582.3 91.3l10.4 10.4M582.3 101.7l10.4 -10.4M587.5 91.3v10.4M590.3 96.3l10.4 10.4M590.3 106.7l10.4 -10.4M595.5 96.3v10.4M598.3 96.3l10.4 10.4M598.3 106.7l10.4 -10.4M603.5 96.3v10.4M606.3 98.3l10.4 10.4M606.3 108.7l10.4 -10.4M611.5 98.3v10.4M614.3 98.3l10.4 10.4M614.3 108.7l10.4 -10.4M619.5 98.3v10.4M622.3 96.7l10.4 10.4M622.3 107.1l10.4 -10.4M627.5 96.7v10.4M630.3 87l10.4 10.4M630.3 97.4l10.4 -10.4M635.5 87v10.4M638.3 87l10.4 10.4M638.3 97.4l10.4 -10.4M643.5 87v10.4M646.3 82.8l10.4 10.4M646.3 93.2l10.4 -10.4M651.5 82.8v10.4M654.3 87.8l10.4 10.4M654.3 98.2l10.4 -10.4M659.5 87.8v10.4M662.3 72.6l10.4 10.4M662.3 83l10.4 -10.4M667.5 72.6v10.4M670.3 76.1l10.4 10.4M670.3 86.5l10.4 -10.4M675.5 76.1v10.4M678.3 76.2l10.4 10.4M678.3 86.6l10.4 -10.4M683.5 76.2v10.4M687.3 99.9l10.4 10.4M687.3 110.3l10.4 -10.4M692.5 99.9v10.4M695.3 104.8l10.4 10.4M695.3 115.2l10.4 -10.4M700.5 104.8v10.4M703.3 95.3l10.4 10.4M703.3 105.7l10.4 -10.4M708.5 95.3v10.4M711.3 68.7l10.4 10.4M711.3 79.1l10.4 -10.4M716.5 68.7v10.4M719.3 71.3l10.4 10.4M719.3 81.7l10.4 -10.4M724.5 71.3v10.4M727.3 57.1l10.4 10.4M727.3 67.5l10.4 -10.4M732.5 57.1v10.4M735.3 57.4l10.4 10.4M735.3 67.8l10.4 -10.4M740.5 57.4v10.4M743.3 59.1l10.4 10.4M743.3 69.5l10.4 -10.4M748.5 59.1v10.4" stroke="#D9A5A4" stroke-width="1" stroke-linecap="butt"/>
<polyline points="94.5,577.8 102.6,577.8 110.6,577.8 118.7,577.8 126.8,577.8 134.9,577.8 142.9,577.8 151,577.8 159.1,577.8 167.2,577.8 175.2,577.8 183.3,577.8 191.4,577.8 199.5,577.8 207.5,577.8 215.6,577.8 223.7,577.8 231.8,577.8 239.8,577.8 247.9,577.8 256,577.8 264.1,577.8 272.1,577.8 280.2,577.8 288.3,577.8 296.4,577.8 304.4,577.8 312.5,577.8 320.6,577.8 328.7,577.8 336.7,577.8 344.8,577.8 352.9,577.8 361,577.8 369,577.8 377.1,577.8 385.2,577.8 393.3,577.8 401.3,577.8 409.4,577.8 417.5,578.3 425.6,578.3 433.6,578.3 441.7,578.3 449.8,578.3 457.9,578.3 465.9,578.3 474,578.3 482.1,578.3 490.2,578.3 498.2,579 506.3,579 514.4,579 522.5,579 530.5,579 538.6,579 546.7,579 554.8,579 562.8,579 570.9,579 579,579 587.1,579 595.1,579 603.2,579 611.3,579 619.4,579 627.4,579 635.5,579 643.6,579 651.7,579 659.7,579 667.8,579 675.9,579 684,579 692,579 700.1,579 708.2,579 716.3,579 724.3,579 732.4,579 740.5,579 748.6,579" stroke="#C3D5A5" stroke-width="3"/>
<path d="M89.6 577.8a4.9 4.9 0 1 0 9.8 0a4.9 4.9 0 1 0 -9.8 0ZM97.7 577.8a4.9 4.9 0 1 0 9.8 0a4.9 4.9 0 1 0 -9.8 0ZM105.7 577.8a4.9 4.9 0 1 0 9.8 0a4.9 4.9 0 1 0 -9.8 0ZM113.8 577.8a4.9 4.9 0 1 0 9.8 0a4.9 4.9 0 1 0 -9.8 0ZM121.9 577.8a4.9 4.9 0 1 0 9.8 0a4.9 4.9 0 1 0 -9.8 0ZM130 577.8a4.9 4.9 0 1 0 9.8 0a4.9 4.9 0 1 0 -9.8 0ZM138 577.8a4.9 4.9 0 1 0 9.8 0a4.9 4.9 0 1 0 -9.8 0ZM146.1 577.8a4.9 4.9 0 1 0 9.8 0a4.9 4.9 0 1 0 -9.8 0ZM154.2 577.8a4.9 4.9 0 1 0 9.8 0a4.9 4.9 0 1 0 -9.8 0ZM162.3 577.8a4.9 4.9 0 1 0 9.8 0a4.9 4.9 0 1 0 -9.8 0ZM170.3 577.8a4.9 4.9 0 1 0 9.8 0a4.9 4.9 0 1 0 -9.8 0ZM178.4 577.8a4.9 4.9 0 1 0 9.8 0a4.9 4.9 0 1 0 -9.8 0ZM186.5 577.8a4.9 4.9 0 1 0 9.8 0a4.9 4.9 0 1 0 -9.8 0ZM194.6 577.8a4.9 4.9 0 1 0 9.8 0a4.9 4.9 0 1 0 -9.8 0ZM202.6 577.8a4.9 4.9 0 1 0 9.8 0a4.9 4.9 0 1 0 -9.8 0ZM210.7 577.8a4.9 4.9 0 1 0 9.8 0a4.9 4.9 0 1 0 -9.8 0ZM218.8 577.8a4.9 4.9 0 1 0 9.8 0a4.9 4.9 0 1 0 -9.8 0ZM226.9 577.8a4.9 4.9 0 1 0 9.8 0a4.9 4.9 0 1 0 -9.8 0ZM234.9 577.8a4.9 4.9 0 1 0 9.8 0a4.9 4.9 0 1 0 -9.8 0ZM243 577.8a4.9 4.9 0 1 0 9.8 0a4.9 4.9 0 1 0 -9.8 0ZM251.1 577.8a4.9 4.9 0 1 0 9.8 0a4.9 4.9 0 1 0 -9.8 0ZM259.2 577.8a4.9 4.9 0 1 0 9.8 0a4.9 4.9 0 1 0 -9.8 0ZM267.2 577.8a4.9 4.9 0 1 0 9.8 0a4.9 4.9 0 1 0 -9.8 0ZM275.3 577.8a4.9 4.9 0 1 0 9.8 0a4.9 4.9 0 1 0 -9.8 0ZM283.4 577.8a4.9 4.9 0 1 0 9.8 0a4.9 4.9 0 1 0 -9.8 0ZM291.5 577.8a4.9 4.9 0 1 0 9.8 0a4.9 4.9 0 1 0 -9.8 0ZM299.5 577.8a4.9 4.9 0 1 0 9.8 0a4.9 4.9 0 1 0 -9.8 0ZM307.6 577.8a4.9 4.9 0 1 0 9.8 0a4.9 4.9 0 1 0 -9.8 0ZM315.7 577.8a4.9 4.9 0 1 0 9.8 0a4.9 4.9 0 1 0 -9.8 0ZM323.8 577.8a4.9 4.9 0 1 0 9.8 0a4.9 4.9 0 1 0 -9.8 0ZM331.8 577.8a4.9 4.9 0 1 0 9.8 0a4.9 4.9 0 1 0 -9.8 0ZM339.9 577.8a4.9 4.9 0 1 0 9.8 0a4.9 4.9 0 1 0 -9.8 0ZM348 577.8a4.9 4.9 0 1 0 9.8 0a4.9 4.9 0 1 0 -9.8 0ZM356.1 577.8a4.9 4.9 0 1 0 9.8 0a4.9 4.9 0 1 0 -9.8 0ZM364.1 577.8a4.9 4.9 0 1 0 9.8 0a4.9 4.9 0 1 0 -9.8 0ZM372.2 577.8a4.9 4.9 0 1 0 9.8 0a4.9 4.9 0 1 0 -9.8 0ZM380.3 577.8a4.9 4.9 0 1 0 9.8 0a4.9 4.9 0 1 0 -9.8 0ZM388.4 577.8a4.9 4.9 0 1 0 9.8 0a4.9 4.9 0 1 0 -9.8 0ZM396.4 577.8a4.9 4.9 0 1 0 9.8 0a4.9 4.9 0 1 0 -9.8 0ZM404.5 577.8a4.9 4.9 0 1 0 9.8 0a4.9 4.9 0 1 0 -9.8 0ZM412.6 578.3a4.9 4.9 0 1 0 9.8 0a4.9 4.9 0 1 0 -9.8 0ZM420.7 578.3a4.9 4.9 0 1 0 9.8 0a4.9 4.9 0 1 0 -9.8 0ZM428.7 578.3a4.9 4.9 0 1 0 9.8 0a4.9 4.9 0 1 0 -9.8 0ZM436.8 578.3a4.9 4.9 0 1 0 9.8 0a4.9 4.9 0 1 0 -9.8 0ZM444.9 578.3a4.9 4.9 0 1 0 9.8 0a4.9 4.9 0 1 0 -9.8 0ZM453 578.3a4.9 4.9 0 1 0 9.8 0a4.9 4.9 0 1 0 -9.8 0ZM461 578.3a4.9 4.9 0 1 0 9.8 0a4.9 4.9 0 1 0 -9.8 0ZM469.1 578.3a4.9 4.9 0 1 0 9.8 0a4.9 4.9 0 1 0 -9.8 0ZM477.2 578.3a4.9 4.9 0 1 0 9.8 0a4.9 4.9 0 1 0 -9.8 0ZM485.3 578.3a4.9 4.9 0 1 0 9.8 0a4.9 4.9 0 1 0 -9.8 0ZM493.3 579a4.9 4.9 0 1 0 9.8 0a4.9 4.9 0 1 0 -9.8 0ZM501.4 579a4.9 4.9 0 1 0 9.8 0a4.9 4.9 0 1 0 -9.8 0ZM509.5 579a4.9 4.9 0 1 0 9.8 0a4.9 4.9 0 1 0 -9.8 0ZM517.6 579a4.9 4.9 0 1 0 9.8 0a4.9 4.9 0 1 0 -9.8 0ZM525.6 579a4.9 4.9 0 1 0 9.8 0a4.9 4.9 0 1 0 -9.8 0ZM533.7 579a4.9 4.9 0 1 0 9.8 0a4.9 4.9 0 1 0 -9.8 0ZM541.8 579a4.9 4.9 0 1 0 9.8 0a4.9 4.9 0 1 0 -9.8 0ZM549.9 579a4.9 4.9 0 1 0 9.8 0a4.9 4.9 0 1 0 -9.8 0ZM557.9 579a4.9 4.9 0 1 0 9.8 0a4.9 4.9 0 1 0 -9.8 0ZM566 579a4.9 4.9 0 1 0 9.8 0a4.9 4.9 0 1 0 -9.8 0ZM574.1 579a4.9 4.9 0 1 0 9.8 0a4.9 4.9 0 1 0 -9.8 0ZM582.2 579a4.9 4.9 0 1 0 9.8 0a4.9 4.9 0 1 0 -9.8 0ZM590.2 579a4.9 4.9 0 1 0 9.8 0a4.9 4.9 0 1 0 -9.8 0ZM598.3 579a4.9 4.9 0 1 0 9.8 0a4.9 4.9 0 1 0 -9.8 0ZM606.4 579a4.9 4.9 0 1 0 9.8 0a4.9 4.9 0 1 0 -9.8 0ZM614.5 579a4.9 4.9 0 1 0 9.8 0a4.9 4.9 0 1 0 -9.8 0ZM622.5 579a4.9 4.9 0 1 0 9.8 0a4.9 4.9 0 1 0 -9.8 0ZM630.6 579a4.9 4.9 0 1 0 9.8 0a4.9 4.9 0 1 0 -9.8 0ZM638.7 579a4.9 4.9 0 1 0 9.8 0a4.9 4.9 0 1 0 -9.8 0ZM646.8 579a4.9 4.9 0 1 0 9.8 0a4.9 4.9 0 1 0 -9.8 0ZM654.8 579a4.9 4.9 0 1 0 9.8 0a4.9 4.9 0 1 0 -9.8 0ZM662.9 579a4.9 4.9 0 1 0 9.8 0a4.9 4.9 0 1 0 -9.8 0ZM671 579a4.9 4.9 0 1 0 9.8 0a4.9 4.9 0 1 0 -9.8 0ZM679.1 579a4.9 4.9 0 1 0 9.8 0a4.9 4.9 0 1 0 -9.8 0ZM687.1 579a4.9 4.9 0 1 0 9.8 0a4.9 4.9 0 1 0 -9.8 0ZM695.2 579a4.9 4.9 0 1 0 9.8 0a4.9 4.9 0 1 0 -9.8 0ZM703.3 579a4.9 4.9 0 1 0 9.8 0a4.9 4.9 0 1 0 -9.8 0ZM711.4 579a4.9 4.9 0 1 0 9.8 0a4.9 4.9 0 1 0 -9.8 0ZM719.4 579a4.9 4.9 0 1 0 9.8 0a4.9 4.9 0 1 0 -9.8 0ZM727.5 579a4.9 4.9 0 1 0 9.8 0a4.9 4.9 0 1 0 -9.8 0ZM735.6 579a4.9 4.9 0 1 0 9.8 0a4.9 4.9 0 1 0 -9.8 0ZM743.7 579a4.9 4.9 0 1 0 9.8 0a4.9 4.9 0 1 0 -9.8 0Z" fill="#C3D5A5" stroke="none"/>
<polyline points="94.5,575.1 102.6,575.1 110.6,574.9 118.7,574.5 126.8,573 134.9,573.4 142.9,573.6 151,573 159.1,572.5 167.2,572.1 175.2,572.5 183.3,573 191.4,571.4 199.5,571 207.5,570.8 215.6,573.4 223.7,573.4 231.8,573.4 239.8,572.1 247.9,572.1 256,572.5 264.1,573.8 272.1,572.5 280.2,571.7 288.3,571.2 296.4,571.2 304.4,571.2 312.5,571.2 320.6,571.2 328.7,571.2 336.7,571.2 344.8,571.7 352.9,570.8 361,571.2 369,576 377.1,576 385.2,576 393.3,576 401.3,576 409.4,576 417.5,576 425.6,574.7 433.6,569.9 441.7,569.9 449.8,572.5 457.9,573.8 465.9,574.3 474,574.7 482.1,573.8 490.2,573 498.2,572.5 506.3,572.1 514.4,571.7 522.5,571.2 530.5,571.7 538.6,570.8 546.7,559.6 554.8,559.6 562.8,562.2 570.9,558.7 579,576.6 587.1,577.9 595.1,578.3 603.2,578.5 611.3,578.5 619.4,578.5 627.4,578.5 635.5,578.5 643.6,578.5 651.7,578.5 659.7,578.5 667.8,578.5 675.9,578.5 684,578.3 692,575.7 700.1,575.2 708.2,577.4 716.3,578.3 724.3,578.5 732.4,578.5 740.5,578.5 748.6,578.5" stroke="#B7AACA" stroke-width="3"/>
<path d="M94.5 569.9v10.4M89.3 575.1h10.4M102.5 569.9v10.4M97.3 575.1h10.4M110.5 569.7v10.4M105.3 574.9h10.4M118.5 569.3v10.4M113.3 574.5h10.4M126.5 567.8v10.4M121.3 573h10.4M134.5 568.2v10.4M129.3 573.4h10.4M142.5 568.4v10.4M137.3 573.6h10.4M151.5 567.8v10.4M146.3 573h10.4M159.5 567.3v10.4M154.3 572.5h10.4M167.5 566.9v10.4M162.3 572.1h10.4M175.5 567.3v10.4M170.3 572.5h10.4M183.5 567.8v10.4M178.3 573h10.4M191.5 566.2v10.4M186.3 571.4h10.4M199.5 565.8v10.4M194.3 571h10.4M207.5 565.6v10.4M202.3 570.8h10.4M215.5 568.2v10.4M210.3 573.4h10.4M223.5 568.2v10.4M218.3 573.4h10.4M231.5 568.2v10.4M226.3 573.4h10.4M239.5 566.9v10.4M234.3 572.1h10.4M247.5 566.9v10.4M242.3 572.1h10.4M255.5 567.3v10.4M250.3 572.5h10.4M264.5 568.6v10.4M259.3 573.8h10.4M272.5 567.3v10.4M267.3 572.5h10.4M280.5 566.5v10.4M275.3 571.7h10.4M288.5 566v10.4M283.3 571.2h10.4M296.5 566v10.4M291.3 571.2h10.4M304.5 566v10.4M299.3 571.2h10.4M312.5 566v10.4M307.3 571.2h10.4M320.5 566v10.4M315.3 571.2h10.4M328.5 566v10.4M323.3 571.2h10.4M336.5 566v10.4M331.3 571.2h10.4M344.5 566.5v10.4M339.3 571.7h10.4M352.5 565.6v10.4M347.3 570.8h10.4M360.5 566v10.4M355.3 571.2h10.4M369.5 570.8v10.4M364.3 576h10.4M377.5 570.8v10.4M372.3 576h10.4M385.5 570.8v10.4M380.3 576h10.4M393.5 570.8v10.4M388.3 576h10.4M401.5 570.8v10.4M396.3 576h10.4M409.5 570.8v10.4M404.3 576h10.4M417.5 570.8v10.4M412.3 576h10.4M425.5 569.5v10.4M420.3 574.7h10.4M433.5 564.7v10.4M428.3 569.9h10.4M441.5 564.7v10.4M436.3 569.9h10.4M449.5 567.3v10.4M444.3 572.5h10.4M457.5 568.6v10.4M452.3 573.8h10.4M465.5 569.1v10.4M460.3 574.3h10.4M474.5 569.5v10.4M469.3 574.7h10.4M482.5 568.6v10.4M477.3 573.8h10.4M490.5 567.8v10.4M485.3 573h10.4M498.5 567.3v10.4M493.3 572.5h10.4M506.5 566.9v10.4M501.3 572.1h10.4M514.5 566.5v10.4M509.3 571.7h10.4M522.5 566v10.4M517.3 571.2h10.4M530.5 566.5v10.4M525.3 571.7h10.4M538.5 565.6v10.4M533.3 570.8h10.4M546.5 554.4v10.4M541.3 559.6h10.4M554.5 554.4v10.4M549.3 559.6h10.4M562.5 557v10.4M557.3 562.2h10.4M570.5 553.5v10.4M565.3 558.7h10.4M578.5 571.4v10.4M573.3 576.6h10.4M587.5 572.7v10.4M582.3 577.9h10.4M595.5 573.1v10.4M590.3 578.3h10.4M603.5 573.3v10.4M598.3 578.5h10.4M611.5 573.3v10.4M606.3 578.5h10.4M619.5 573.3v10.4M614.3 578.5h10.4M627.5 573.3v10.4M622.3 578.5h10.4M635.5 573.3v10.4M630.3 578.5h10.4M643.5 573.3v10.4M638.3 578.5h10.4M651.5 573.3v10.4M646.3 578.5h10.4M659.5 573.3v10.4M654.3 578.5h10.4M667.5 573.3v10.4M662.3 578.5h10.4M675.5 573.3v10.4M670.3 578.5h10.4M683.5 573.1v10.4M678.3 578.3h10.4M692.5 570.5v10.4M687.3 575.7h10.4M700.5 570v10.4M695.3 575.2h10.4M708.5 572.2v10.4M703.3 577.4h10.4M716.5 573.1v10.4M711.3 578.3h10.4M724.5 573.3v10.4M719.3 578.5h10.4M732.5 573.3v10.4M727.3 578.5h10.4M740.5 573.3v10.4M735.3 578.5h10.4M748.5 573.3v10.4M743.3 578.5h10.4" stroke="#B7AACA" stroke-width="1" stroke-linecap="butt"/>
</g>
<text class="ax" style="font-size:13.4px" transform="translate(99.3 590.2) rotate(-90) scale(0.965 1)" text-anchor="end">11/27/2011</text>
<text class="ax" style="font-size:13.4px" transform="translate(155.8 590.2) rotate(-90) scale(0.965 1)" text-anchor="end">12/4/2011</text>
<text class="ax" style="font-size:13.4px" transform="translate(212.3 590.2) rotate(-90) scale(0.965 1)" text-anchor="end">12/11/2011</text>
<text class="ax" style="font-size:13.4px" transform="translate(268.9 590.2) rotate(-90) scale(0.965 1)" text-anchor="end">12/18/2011</text>
<text class="ax" style="font-size:13.4px" transform="translate(325.4 590.2) rotate(-90) scale(0.965 1)" text-anchor="end">12/25/2011</text>
<text class="ax" style="font-size:13.4px" transform="translate(381.9 590.2) rotate(-90) scale(0.965 1)" text-anchor="end">1/1/2012</text>
<text class="ax" style="font-size:13.4px" transform="translate(438.4 590.2) rotate(-90) scale(0.965 1)" text-anchor="end">1/8/2012</text>
<text class="ax" style="font-size:13.4px" transform="translate(495 590.2) rotate(-90) scale(0.965 1)" text-anchor="end">1/15/2012</text>
<text class="ax" style="font-size:13.4px" transform="translate(551.5 590.2) rotate(-90) scale(0.965 1)" text-anchor="end">1/22/2012</text>
<text class="ax" style="font-size:13.4px" transform="translate(608 590.2) rotate(-90) scale(0.965 1)" text-anchor="end">2/1/2012</text>
<text class="ax" style="font-size:13.4px" transform="translate(664.5 590.2) rotate(-90) scale(0.965 1)" text-anchor="end">2/8/2012</text>
<text class="ax" style="font-size:13.4px" transform="translate(721.1 590.2) rotate(-90) scale(0.965 1)" text-anchor="end">2/12/2012</text>
<g>
<line x1="773.3" y1="160.9" x2="798.5" y2="160.9" stroke="#3A6698" stroke-width="3" stroke-linecap="round"/>
<path d="M785.6 156L790.5 160.9L785.6 165.8L780.7 160.9Z" fill="#3A6698"/>
<text class="lg" x="801.5" y="165.9">Cincinnati</text>
</g>
<g>
<line x1="773.3" y1="186.6" x2="798.5" y2="186.6" stroke="#9C3A38" stroke-width="3" stroke-linecap="round"/>
<path d="M780.7 181.7h9.8v9.8h-9.8Z" fill="#9C3A38"/>
<text class="lg" x="801.5" y="191.6">Connecticut</text>
</g>
<g>
<line x1="773.3" y1="212.4" x2="798.5" y2="212.4" stroke="#7C9A45" stroke-width="3" stroke-linecap="round"/>
<path d="M785.6 207.5L790.5 217.3L780.7 217.3Z" fill="#7C9A45"/>
<text class="lg" x="801.5" y="217.4">DePaul</text>
</g>
<g>
<line x1="773.3" y1="238.1" x2="798.5" y2="238.1" stroke="#634C80" stroke-width="3" stroke-linecap="round"/>
<path d="M780.3 232.9l10.4 10.4M780.3 243.3l10.4 -10.4" stroke="#634C80" stroke-width="1" fill="none"/>
<text class="lg" x="801.5" y="243.1">Georgetown</text>
</g>
<g>
<line x1="773.3" y1="263.8" x2="798.5" y2="263.8" stroke="#388BA2" stroke-width="3" stroke-linecap="round"/>
<path d="M780.3 258.6l10.4 10.4M780.3 269l10.4 -10.4M785.5 258.6v10.4" stroke="#388BA2" stroke-width="1" fill="none"/>
<text class="lg" x="801.5" y="268.8">Louisville</text>
</g>
<g>
<line x1="773.3" y1="289.6" x2="798.5" y2="289.6" stroke="#CC7B38" stroke-width="3" stroke-linecap="round"/>
<path d="M780.7 289.6a4.9 4.9 0 1 0 9.8 0a4.9 4.9 0 1 0 -9.8 0Z" fill="#CC7B38"/>
<text class="lg" x="801.5" y="294.6">Marquette</text>
</g>
<g>
<line x1="773.3" y1="315.3" x2="798.5" y2="315.3" stroke="#4A7EBB" stroke-width="3" stroke-linecap="round"/>
<path d="M785.5 310.1v10.4M780.3 315.3h10.4" stroke="#4A7EBB" stroke-width="1" fill="none"/>
<text class="lg" x="801.5" y="320.3">Notre Dame</text>
</g>
<g>
<line x1="773.3" y1="341" x2="798.5" y2="341" stroke="#BE4B48" stroke-width="3" stroke-linecap="round"/>
<text class="lg" x="801.5" y="346">Pittsburgh</text>
</g>
<g>
<line x1="773.3" y1="366.7" x2="798.5" y2="366.7" stroke="#98B954" stroke-width="3" stroke-linecap="round"/>
<text class="lg" x="801.5" y="371.7">Providence</text>
</g>
<g>
<line x1="773.3" y1="392.5" x2="798.5" y2="392.5" stroke="#7D60A0" stroke-width="3" stroke-linecap="round"/>
<path d="M785.6 387.6L790.5 392.5L785.6 397.4L780.7 392.5Z" fill="#7D60A0"/>
<text class="lg" x="801.5" y="397.5">Rutgers</text>
</g>
<g>
<line x1="773.3" y1="418.2" x2="798.5" y2="418.2" stroke="#46AAC5" stroke-width="3" stroke-linecap="round"/>
<path d="M780.7 413.3h9.8v9.8h-9.8Z" fill="#46AAC5"/>
<text class="lg" x="801.5" y="423.2">Seton Hall</text>
</g>
<g>
<line x1="773.3" y1="443.9" x2="798.5" y2="443.9" stroke="#F79646" stroke-width="3" stroke-linecap="round"/>
<path d="M785.6 439L790.5 448.8L780.7 448.8Z" fill="#F79646"/>
<text class="lg" x="801.5" y="448.9">South Florida</text>
</g>
<g>
<line x1="773.3" y1="469.7" x2="798.5" y2="469.7" stroke="#A7B8D9" stroke-width="3" stroke-linecap="round"/>
<path d="M780.3 464.5l10.4 10.4M780.3 474.9l10.4 -10.4" stroke="#A7B8D9" stroke-width="1" fill="none"/>
<text class="lg" x="801.5" y="474.7">St. John&#39;s</text>
</g>
<g>
<line x1="773.3" y1="495.4" x2="798.5" y2="495.4" stroke="#D9A5A4" stroke-width="3" stroke-linecap="round"/>
<path d="M780.3 490.2l10.4 10.4M780.3 500.6l10.4 -10.4M785.5 490.2v10.4" stroke="#D9A5A4" stroke-width="1" fill="none"/>
<text class="lg" x="801.5" y="500.4">Syracuse</text>
</g>
<g>
<line x1="773.3" y1="521.1" x2="798.5" y2="521.1" stroke="#C3D5A5" stroke-width="3" stroke-linecap="round"/>
<path d="M780.7 521.1a4.9 4.9 0 1 0 9.8 0a4.9 4.9 0 1 0 -9.8 0Z" fill="#C3D5A5"/>
<text class="lg" x="801.5" y="526.1">Villanova</text>
</g>
<g>
<line x1="773.3" y1="546.9" x2="798.5" y2="546.9" stroke="#B7AACA" stroke-width="3" stroke-linecap="round"/>
<path d="M785.5 541.6v10.4M780.3 546.9h10.4" stroke="#B7AACA" stroke-width="1" fill="none"/>
<text class="lg" x="801.5" y="551.9">West Virginia</text>
</g>
</svg>
</body></html>
